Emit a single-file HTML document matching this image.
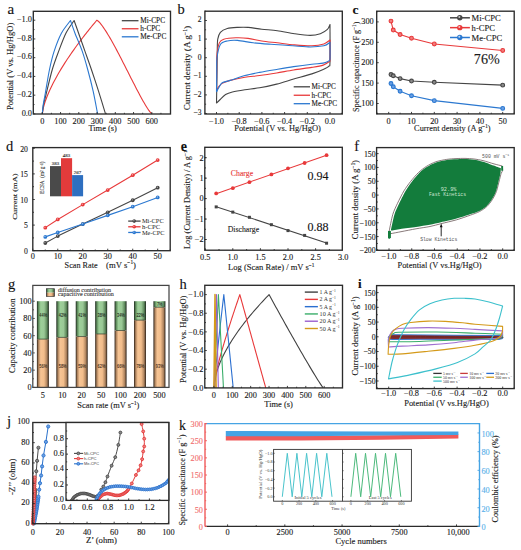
<!DOCTYPE html>
<html><head><meta charset="utf-8"><style>
html,body{margin:0;padding:0;background:#fff;width:521px;height:550px;overflow:hidden}
svg{display:block}
</style></head><body>
<svg width="521" height="550" viewBox="0 0 521 550">
<rect width="521" height="550" fill="#fff"/>
<polyline points="42.3,113.9 43.39,107.6 44.48,103.73 45.57,100.45 46.67,97.5 47.76,94.77 48.85,92.2 49.94,89.77 51.03,87.44 52.12,85.2 53.21,83.04 54.3,80.94 55.4,78.9 56.49,76.91 57.58,74.97 58.67,73.07 59.76,71.21 60.85,69.39 61.94,67.6 63.04,65.84 64.13,64.11 65.22,62.4 66.31,60.72 67.4,59.07 68.49,57.43 69.58,55.82 70.68,54.23 71.77,52.65 72.86,51.1 73.95,49.56 75.04,48.03 76.13,46.53 77.22,45.03 78.31,43.56 79.41,42.09 80.5,40.64 81.59,39.2 82.68,37.78 83.77,36.36 84.86,34.96 85.95,33.57 87.05,32.19 88.14,30.82 89.23,29.46 90.32,28.11 91.41,26.77 92.5,25.44 93.59,24.12 94.68,22.8 95.78,21.5 96.87,20.2 97.97,20.92 99.07,21.98 100.17,23.21 101.28,24.57 102.38,26.03 103.48,27.58 104.58,29.2 105.69,30.89 106.79,32.63 107.89,34.42 108.99,36.26 110.1,38.15 111.2,40.07 112.3,42.02 113.4,44.01 114.5,46.02 115.61,48.06 116.71,50.13 117.81,52.21 118.91,54.32 120.02,56.44 121.12,58.58 122.22,60.72 123.32,62.88 124.42,65.05 125.53,67.23 126.63,69.4 127.73,71.59 128.83,73.77 129.94,75.95 131.04,78.13 132.14,80.3 133.24,82.47 134.35,84.62 135.45,86.77 136.55,88.89 137.65,91 138.75,93.09 139.86,95.15 140.96,97.19 142.06,99.19 143.16,101.15 144.27,103.06 145.37,104.93 146.47,106.73 147.57,108.45 148.68,110.08 149.78,111.59 150.88,112.93 151.98,113.9" fill="none" stroke="#e8393a" stroke-width="1.1" stroke-linejoin="round" />
<path d="M42.3,113.9 C42.46,112.56 42.86,107.84 43.4,105 C43.94,102.16 44.56,100.33 45.9,95 C47.23,89.67 50.39,76.04 52.3,69.5 C54.2,62.96 56.56,56.84 58.6,51.4 C60.64,45.95 63.58,37.84 65.9,33.2 C68.23,28.57 72.87,22.41 74.1,20.5 L74.1,20.5 C74.77,22.41 76.96,28.57 78.6,33.2 C80.23,37.84 83.08,45.95 85,51.4 C86.92,56.84 89.36,63.5 91.4,69.5 C93.44,75.5 96.48,84.74 98.6,91.4 C100.71,98.06 104.47,110.53 105.5,113.9" fill="none" stroke="#454545" stroke-width="1.1" stroke-linejoin="round" />
<path d="M42.3,113.9 C42.43,112.56 42.8,107.84 43.2,105 C43.61,102.16 44.05,100.33 45,95 C45.95,89.67 48.13,76.04 49.5,69.5 C50.87,62.96 52.32,56.84 54.1,51.4 C55.88,45.95 58.94,37.84 61.4,33.2 C63.86,28.57 69.14,22.41 70.5,20.5 L70.5,20.5 C71.17,22.41 73.23,28.57 75,33.2 C76.77,37.84 80.39,45.95 82.3,51.4 C84.2,56.84 86.06,63.5 87.7,69.5 C89.34,75.5 91.72,84.74 93.2,91.4 C94.69,98.06 96.94,110.53 97.6,113.9" fill="none" stroke="#2b78d0" stroke-width="1.1" stroke-linejoin="round" />
<rect x="33.3" y="11.3" width="137.2" height="102.7" fill="none" stroke="#2b2b2b" stroke-width="1.35" />
<line x1="42.3" y1="114" x2="42.3" y2="112" stroke="#2b2b2b" stroke-width="0.9" />
<line x1="60.55" y1="114" x2="60.55" y2="112" stroke="#2b2b2b" stroke-width="0.9" />
<line x1="78.8" y1="114" x2="78.8" y2="112" stroke="#2b2b2b" stroke-width="0.9" />
<line x1="97.05" y1="114" x2="97.05" y2="112" stroke="#2b2b2b" stroke-width="0.9" />
<line x1="115.3" y1="114" x2="115.3" y2="112" stroke="#2b2b2b" stroke-width="0.9" />
<line x1="133.55" y1="114" x2="133.55" y2="112" stroke="#2b2b2b" stroke-width="0.9" />
<line x1="151.8" y1="114" x2="151.8" y2="112" stroke="#2b2b2b" stroke-width="0.9" />
<line x1="51.42" y1="114" x2="51.42" y2="112.8" stroke="#2b2b2b" stroke-width="0.9" />
<line x1="69.67" y1="114" x2="69.67" y2="112.8" stroke="#2b2b2b" stroke-width="0.9" />
<line x1="87.92" y1="114" x2="87.92" y2="112.8" stroke="#2b2b2b" stroke-width="0.9" />
<line x1="106.17" y1="114" x2="106.17" y2="112.8" stroke="#2b2b2b" stroke-width="0.9" />
<line x1="124.42" y1="114" x2="124.42" y2="112.8" stroke="#2b2b2b" stroke-width="0.9" />
<line x1="142.68" y1="114" x2="142.68" y2="112.8" stroke="#2b2b2b" stroke-width="0.9" />
<line x1="160.93" y1="114" x2="160.93" y2="112.8" stroke="#2b2b2b" stroke-width="0.9" />
<line x1="33.3" y1="113.9" x2="35.3" y2="113.9" stroke="#2b2b2b" stroke-width="0.9" />
<line x1="33.3" y1="95.16" x2="35.3" y2="95.16" stroke="#2b2b2b" stroke-width="0.9" />
<line x1="33.3" y1="76.42" x2="35.3" y2="76.42" stroke="#2b2b2b" stroke-width="0.9" />
<line x1="33.3" y1="57.68" x2="35.3" y2="57.68" stroke="#2b2b2b" stroke-width="0.9" />
<line x1="33.3" y1="38.94" x2="35.3" y2="38.94" stroke="#2b2b2b" stroke-width="0.9" />
<line x1="33.3" y1="20.2" x2="35.3" y2="20.2" stroke="#2b2b2b" stroke-width="0.9" />
<line x1="33.3" y1="104.53" x2="34.5" y2="104.53" stroke="#2b2b2b" stroke-width="0.9" />
<line x1="33.3" y1="85.79" x2="34.5" y2="85.79" stroke="#2b2b2b" stroke-width="0.9" />
<line x1="33.3" y1="67.05" x2="34.5" y2="67.05" stroke="#2b2b2b" stroke-width="0.9" />
<line x1="33.3" y1="48.31" x2="34.5" y2="48.31" stroke="#2b2b2b" stroke-width="0.9" />
<line x1="33.3" y1="29.57" x2="34.5" y2="29.57" stroke="#2b2b2b" stroke-width="0.9" />
<text x="32" y="115.7" font-size="8.3" text-anchor="end" font-family='"Liberation Serif", serif' fill="#1a1a1a"  stroke="#1a1a1a" stroke-width="0.12">0.0</text>
<text x="32" y="96.96" font-size="8.3" text-anchor="end" font-family='"Liberation Serif", serif' fill="#1a1a1a"  stroke="#1a1a1a" stroke-width="0.12">−0.2</text>
<text x="32" y="78.22" font-size="8.3" text-anchor="end" font-family='"Liberation Serif", serif' fill="#1a1a1a"  stroke="#1a1a1a" stroke-width="0.12">−0.4</text>
<text x="32" y="59.48" font-size="8.3" text-anchor="end" font-family='"Liberation Serif", serif' fill="#1a1a1a"  stroke="#1a1a1a" stroke-width="0.12">−0.6</text>
<text x="32" y="40.74" font-size="8.3" text-anchor="end" font-family='"Liberation Serif", serif' fill="#1a1a1a"  stroke="#1a1a1a" stroke-width="0.12">−0.8</text>
<text x="32" y="22" font-size="8.3" text-anchor="end" font-family='"Liberation Serif", serif' fill="#1a1a1a"  stroke="#1a1a1a" stroke-width="0.12">−1.0</text>
<text x="42.3" y="124" font-size="8.3" text-anchor="middle" font-family='"Liberation Serif", serif' fill="#1a1a1a"  stroke="#1a1a1a" stroke-width="0.12">0</text>
<text x="60.55" y="124" font-size="8.3" text-anchor="middle" font-family='"Liberation Serif", serif' fill="#1a1a1a"  stroke="#1a1a1a" stroke-width="0.12">100</text>
<text x="78.8" y="124" font-size="8.3" text-anchor="middle" font-family='"Liberation Serif", serif' fill="#1a1a1a"  stroke="#1a1a1a" stroke-width="0.12">200</text>
<text x="97.05" y="124" font-size="8.3" text-anchor="middle" font-family='"Liberation Serif", serif' fill="#1a1a1a"  stroke="#1a1a1a" stroke-width="0.12">300</text>
<text x="115.3" y="124" font-size="8.3" text-anchor="middle" font-family='"Liberation Serif", serif' fill="#1a1a1a"  stroke="#1a1a1a" stroke-width="0.12">400</text>
<text x="133.55" y="124" font-size="8.3" text-anchor="middle" font-family='"Liberation Serif", serif' fill="#1a1a1a"  stroke="#1a1a1a" stroke-width="0.12">500</text>
<text x="151.8" y="124" font-size="8.3" text-anchor="middle" font-family='"Liberation Serif", serif' fill="#1a1a1a"  stroke="#1a1a1a" stroke-width="0.12">600</text>
<text x="102.65" y="130.9" font-size="8.4" text-anchor="middle" font-family='"Liberation Serif", serif' fill="#1a1a1a"  textLength="28.5" lengthAdjust="spacingAndGlyphs" stroke="#1a1a1a" stroke-width="0.12">Time (s)</text>
<text x="13.1" y="66.4" font-size="8.4" text-anchor="middle" font-family='"Liberation Serif", serif' fill="#1a1a1a" transform="rotate(-90 13.1 66.4)"  textLength="87.2" lengthAdjust="spacingAndGlyphs" stroke="#1a1a1a" stroke-width="0.12">Potential (V vs. Hg/HgO)</text>
<text x="7.5" y="13.8" font-size="15" text-anchor="start" font-family='"Liberation Serif", serif' fill="#111"  stroke="#111" stroke-width="0.12">a</text>
<line x1="121.8" y1="20.7" x2="138.5" y2="20.7" stroke="#454545" stroke-width="1.3" />
<text x="140.3" y="23.2" font-size="7.3" text-anchor="start" font-family='"Liberation Serif", serif' fill="#1a1a1a"  stroke="#1a1a1a" stroke-width="0.12">Mi-CPC</text>
<line x1="121.8" y1="28.75" x2="138.5" y2="28.75" stroke="#e8393a" stroke-width="1.3" />
<text x="140.3" y="31.25" font-size="7.3" text-anchor="start" font-family='"Liberation Serif", serif' fill="#1a1a1a"  stroke="#1a1a1a" stroke-width="0.12">h-CPC</text>
<line x1="121.8" y1="36.8" x2="138.5" y2="36.8" stroke="#2b78d0" stroke-width="1.3" />
<text x="140.3" y="39.3" font-size="7.3" text-anchor="start" font-family='"Liberation Serif", serif' fill="#1a1a1a"  stroke="#1a1a1a" stroke-width="0.12">Me-CPC</text>
<path d="M216.5,103.27 C216.57,99.22 216.83,84.53 216.95,76.3 C217.07,68.07 217.18,53.97 217.29,48.4 C217.41,42.83 217.29,41.61 217.75,39.19 C218.21,36.78 218.93,33.9 220.36,32.29 C221.79,30.69 224.69,29.23 227.28,28.5 C229.87,27.76 234.5,27.55 237.61,27.38 C240.73,27.21 244.43,27.1 248.05,27.38 C251.68,27.66 257.39,28.74 261.79,29.24 C266.18,29.74 272.43,30.06 277.34,30.73 C282.24,31.4 289.55,33.01 294.47,33.71 C299.39,34.4 306.26,35.38 310.14,35.38 C314.02,35.38 317.76,34.6 320.35,33.71 C322.94,32.81 325.94,30.8 327.39,29.43 C328.84,28.06 329.61,25.32 330,24.59 L330,24.59 C330,30.17 330.17,55.57 330,61.79 C329.83,68.01 329.89,64.93 328.87,66.07 C327.84,67.21 325.74,68.25 323.19,69.42 C320.64,70.59 316.27,72.43 311.84,73.88 C307.41,75.33 298.96,77.56 293.68,79.09 C288.4,80.62 281.76,82.8 276.65,84.11 C271.55,85.42 264.4,87 259.63,87.83 C254.86,88.67 248.96,89.08 244.88,89.69 C240.79,90.31 235.28,91.2 232.39,91.92 C229.5,92.65 227.45,93.36 225.58,94.53 C223.71,95.7 221.27,98.42 219.91,99.74 C218.54,101.05 217.01,102.74 216.5,103.27" fill="none" stroke="#454545" stroke-width="1.1" stroke-linejoin="round" />
<path d="M216.5,90.25 C216.53,87.04 216.66,74.19 216.73,68.86 C216.8,63.53 216.55,58.66 216.95,54.72 C217.36,50.79 218.43,44.96 219.45,42.63 C220.47,40.3 221.3,39.92 223.76,39.19 C226.23,38.47 232.27,37.92 235.91,37.8 C239.55,37.67 244.17,37.88 248.05,38.36 C251.93,38.83 257.39,40.29 261.79,40.96 C266.18,41.63 272.43,42.23 277.34,42.82 C282.24,43.41 289.3,44.42 294.47,44.87 C299.65,45.31 307.43,45.94 311.84,45.8 C316.25,45.66 321.15,44.8 323.87,43.94 C326.59,43.07 329.08,40.62 330,40.03 L330,40.03 C330,42.96 330.17,56.3 330,59.56 C329.83,62.82 329.89,60.95 328.87,61.79 C327.84,62.63 325.74,64.3 323.19,65.14 C320.64,65.98 316.27,66.65 311.84,67.37 C307.41,68.1 298.96,69.14 293.68,69.98 C288.4,70.81 281.76,72.11 276.65,72.95 C271.55,73.79 264.4,74.91 259.63,75.56 C254.86,76.2 249.3,76.5 244.88,77.23 C240.45,77.96 233.53,79.47 230.12,80.39 C226.72,81.31 223.88,82.42 222.18,83.37 C220.47,84.32 219.62,85.68 218.77,86.72 C217.92,87.75 216.84,89.72 216.5,90.25" fill="none" stroke="#e8393a" stroke-width="1.1" stroke-linejoin="round" />
<path d="M216.5,91.92 C216.53,89.02 216.66,77.63 216.73,72.58 C216.8,67.53 216.41,62.47 216.95,58.26 C217.5,54.05 218.81,47.09 220.36,44.49 C221.91,41.9 224.69,41.57 227.28,40.96 C229.87,40.35 233.73,40.12 237.61,40.4 C241.49,40.68 248.16,42.23 253.16,42.82 C258.17,43.41 266.08,43.95 270.98,44.31 C275.88,44.67 280.23,44.85 285.85,45.24 C291.47,45.63 302.73,46.83 308.44,46.91 C314.14,47 320.64,46.49 323.87,45.8 C327.11,45.1 329.08,42.79 330,42.26 L330,42.26 C330,44.72 330.17,55.84 330,58.63 C329.83,61.42 329.89,60.19 328.87,60.86 C327.84,61.53 325.74,62.59 323.19,63.09 C320.64,63.6 316.27,63.68 311.84,64.21 C307.41,64.74 298.96,65.85 293.68,66.63 C288.4,67.41 281.76,68.55 276.65,69.42 C271.55,70.28 264.4,71.47 259.63,72.39 C254.86,73.31 249.3,74.36 244.88,75.56 C240.45,76.76 233.53,79.3 230.12,80.39 C226.72,81.48 223.88,81.72 222.18,82.81 C220.47,83.9 219.62,86.28 218.77,87.65 C217.92,89.01 216.84,91.28 216.5,91.92" fill="none" stroke="#2b78d0" stroke-width="1.1" stroke-linejoin="round" />
<rect x="204.9" y="11.2" width="137.4" height="102.8" fill="none" stroke="#2b2b2b" stroke-width="1.35" />
<line x1="216.5" y1="114" x2="216.5" y2="112" stroke="#2b2b2b" stroke-width="0.9" />
<line x1="239.2" y1="114" x2="239.2" y2="112" stroke="#2b2b2b" stroke-width="0.9" />
<line x1="261.9" y1="114" x2="261.9" y2="112" stroke="#2b2b2b" stroke-width="0.9" />
<line x1="284.6" y1="114" x2="284.6" y2="112" stroke="#2b2b2b" stroke-width="0.9" />
<line x1="307.3" y1="114" x2="307.3" y2="112" stroke="#2b2b2b" stroke-width="0.9" />
<line x1="330" y1="114" x2="330" y2="112" stroke="#2b2b2b" stroke-width="0.9" />
<line x1="205.15" y1="114" x2="205.15" y2="112.8" stroke="#2b2b2b" stroke-width="0.9" />
<line x1="227.85" y1="114" x2="227.85" y2="112.8" stroke="#2b2b2b" stroke-width="0.9" />
<line x1="250.55" y1="114" x2="250.55" y2="112.8" stroke="#2b2b2b" stroke-width="0.9" />
<line x1="273.25" y1="114" x2="273.25" y2="112.8" stroke="#2b2b2b" stroke-width="0.9" />
<line x1="295.95" y1="114" x2="295.95" y2="112.8" stroke="#2b2b2b" stroke-width="0.9" />
<line x1="318.65" y1="114" x2="318.65" y2="112.8" stroke="#2b2b2b" stroke-width="0.9" />
<line x1="341.35" y1="114" x2="341.35" y2="112.8" stroke="#2b2b2b" stroke-width="0.9" />
<line x1="204.9" y1="113.5" x2="206.9" y2="113.5" stroke="#2b2b2b" stroke-width="0.9" />
<line x1="204.9" y1="94.9" x2="206.9" y2="94.9" stroke="#2b2b2b" stroke-width="0.9" />
<line x1="204.9" y1="76.3" x2="206.9" y2="76.3" stroke="#2b2b2b" stroke-width="0.9" />
<line x1="204.9" y1="57.7" x2="206.9" y2="57.7" stroke="#2b2b2b" stroke-width="0.9" />
<line x1="204.9" y1="39.1" x2="206.9" y2="39.1" stroke="#2b2b2b" stroke-width="0.9" />
<line x1="204.9" y1="20.5" x2="206.9" y2="20.5" stroke="#2b2b2b" stroke-width="0.9" />
<line x1="204.9" y1="104.2" x2="206.1" y2="104.2" stroke="#2b2b2b" stroke-width="0.9" />
<line x1="204.9" y1="85.6" x2="206.1" y2="85.6" stroke="#2b2b2b" stroke-width="0.9" />
<line x1="204.9" y1="67" x2="206.1" y2="67" stroke="#2b2b2b" stroke-width="0.9" />
<line x1="204.9" y1="48.4" x2="206.1" y2="48.4" stroke="#2b2b2b" stroke-width="0.9" />
<line x1="204.9" y1="29.8" x2="206.1" y2="29.8" stroke="#2b2b2b" stroke-width="0.9" />
<line x1="204.9" y1="11.2" x2="206.1" y2="11.2" stroke="#2b2b2b" stroke-width="0.9" />
<text x="201.6" y="115.36" font-size="7.6" text-anchor="end" font-family='"Liberation Serif", serif' fill="#1a1a1a"  stroke="#1a1a1a" stroke-width="0.12">−3</text>
<text x="201.6" y="96.77" font-size="7.6" text-anchor="end" font-family='"Liberation Serif", serif' fill="#1a1a1a"  stroke="#1a1a1a" stroke-width="0.12">−2</text>
<text x="201.6" y="78.17" font-size="7.6" text-anchor="end" font-family='"Liberation Serif", serif' fill="#1a1a1a"  stroke="#1a1a1a" stroke-width="0.12">−1</text>
<text x="201.6" y="59.57" font-size="7.6" text-anchor="end" font-family='"Liberation Serif", serif' fill="#1a1a1a"  stroke="#1a1a1a" stroke-width="0.12">0</text>
<text x="201.6" y="40.97" font-size="7.6" text-anchor="end" font-family='"Liberation Serif", serif' fill="#1a1a1a"  stroke="#1a1a1a" stroke-width="0.12">1</text>
<text x="201.6" y="22.36" font-size="7.6" text-anchor="end" font-family='"Liberation Serif", serif' fill="#1a1a1a"  stroke="#1a1a1a" stroke-width="0.12">2</text>
<text x="216.5" y="123.6" font-size="8.3" text-anchor="middle" font-family='"Liberation Serif", serif' fill="#1a1a1a"  stroke="#1a1a1a" stroke-width="0.12">−1.0</text>
<text x="239.2" y="123.6" font-size="8.3" text-anchor="middle" font-family='"Liberation Serif", serif' fill="#1a1a1a"  stroke="#1a1a1a" stroke-width="0.12">−0.8</text>
<text x="261.9" y="123.6" font-size="8.3" text-anchor="middle" font-family='"Liberation Serif", serif' fill="#1a1a1a"  stroke="#1a1a1a" stroke-width="0.12">−0.6</text>
<text x="284.6" y="123.6" font-size="8.3" text-anchor="middle" font-family='"Liberation Serif", serif' fill="#1a1a1a"  stroke="#1a1a1a" stroke-width="0.12">−0.4</text>
<text x="307.3" y="123.6" font-size="8.3" text-anchor="middle" font-family='"Liberation Serif", serif' fill="#1a1a1a"  stroke="#1a1a1a" stroke-width="0.12">−0.2</text>
<text x="330" y="123.6" font-size="8.3" text-anchor="middle" font-family='"Liberation Serif", serif' fill="#1a1a1a"  stroke="#1a1a1a" stroke-width="0.12">0.0</text>
<text x="277.55" y="131.1" font-size="8.4" text-anchor="middle" font-family='"Liberation Serif", serif' fill="#1a1a1a"  textLength="86.7" lengthAdjust="spacingAndGlyphs" stroke="#1a1a1a" stroke-width="0.12">Potential (V vs. Hg/HgO)</text>
<text x="190.1" y="68.1" font-size="8.4" text-anchor="middle" font-family='"Liberation Serif", serif' fill="#1a1a1a" transform="rotate(-90 190.1 68.1)"  textLength="84.4" lengthAdjust="spacingAndGlyphs" stroke="#1a1a1a" stroke-width="0.12">Current density (A g<tspan font-size="5.2" dy="-3.3">−1</tspan><tspan dy="3.3">)</tspan></text>
<text x="177.6" y="13.8" font-size="14.5" text-anchor="start" font-family='"Liberation Serif", serif' fill="#111"  stroke="#111" stroke-width="0.12">b</text>
<line x1="293.7" y1="86.8" x2="310" y2="86.8" stroke="#454545" stroke-width="1.3" />
<text x="311.5" y="89.3" font-size="7.2" text-anchor="start" font-family='"Liberation Serif", serif' fill="#1a1a1a"  stroke="#1a1a1a" stroke-width="0.12">Mi-CPC</text>
<line x1="293.7" y1="95.25" x2="310" y2="95.25" stroke="#e8393a" stroke-width="1.3" />
<text x="311.5" y="97.75" font-size="7.2" text-anchor="start" font-family='"Liberation Serif", serif' fill="#1a1a1a"  stroke="#1a1a1a" stroke-width="0.12">h-CPC</text>
<line x1="293.7" y1="103.7" x2="310" y2="103.7" stroke="#2b78d0" stroke-width="1.3" />
<text x="311.5" y="106.2" font-size="7.2" text-anchor="start" font-family='"Liberation Serif", serif' fill="#1a1a1a"  stroke="#1a1a1a" stroke-width="0.12">Me-CPC</text>
<polyline points="390.98,74.53 393.26,75.76 400.1,78.61 411.5,81.06 434.3,82.28 502.7,85.14" fill="none" stroke="#454545" stroke-width="1.1" stroke-linejoin="round" />
<circle cx="390.98" cy="74.53" r="1.9" fill="#8a8a8a" stroke="#454545" stroke-width="1.1" />
<circle cx="393.26" cy="75.76" r="1.9" fill="#8a8a8a" stroke="#454545" stroke-width="1.1" />
<circle cx="400.1" cy="78.61" r="1.9" fill="#8a8a8a" stroke="#454545" stroke-width="1.1" />
<circle cx="411.5" cy="81.06" r="1.9" fill="#8a8a8a" stroke="#454545" stroke-width="1.1" />
<circle cx="434.3" cy="82.28" r="1.9" fill="#8a8a8a" stroke="#454545" stroke-width="1.1" />
<circle cx="502.7" cy="85.14" r="1.9" fill="#8a8a8a" stroke="#454545" stroke-width="1.1" />
<polyline points="390.98,21.08 393.26,30.06 400.1,34.55 411.5,38.22 434.3,43.93 502.7,50.46" fill="none" stroke="#e8393a" stroke-width="1.1" stroke-linejoin="round" />
<circle cx="390.98" cy="21.08" r="1.9" fill="#f27c7c" stroke="#e8393a" stroke-width="1.1" />
<circle cx="393.26" cy="30.06" r="1.9" fill="#f27c7c" stroke="#e8393a" stroke-width="1.1" />
<circle cx="400.1" cy="34.55" r="1.9" fill="#f27c7c" stroke="#e8393a" stroke-width="1.1" />
<circle cx="411.5" cy="38.22" r="1.9" fill="#f27c7c" stroke="#e8393a" stroke-width="1.1" />
<circle cx="434.3" cy="43.93" r="1.9" fill="#f27c7c" stroke="#e8393a" stroke-width="1.1" />
<circle cx="502.7" cy="50.46" r="1.9" fill="#f27c7c" stroke="#e8393a" stroke-width="1.1" />
<polyline points="390.98,83.51 393.26,86.77 400.1,91.26 411.5,95.75 434.3,100.64 502.7,108.4" fill="none" stroke="#2b78d0" stroke-width="1.1" stroke-linejoin="round" />
<circle cx="390.98" cy="83.51" r="1.9" fill="#6a9fe4" stroke="#2b78d0" stroke-width="1.1" />
<circle cx="393.26" cy="86.77" r="1.9" fill="#6a9fe4" stroke="#2b78d0" stroke-width="1.1" />
<circle cx="400.1" cy="91.26" r="1.9" fill="#6a9fe4" stroke="#2b78d0" stroke-width="1.1" />
<circle cx="411.5" cy="95.75" r="1.9" fill="#6a9fe4" stroke="#2b78d0" stroke-width="1.1" />
<circle cx="434.3" cy="100.64" r="1.9" fill="#6a9fe4" stroke="#2b78d0" stroke-width="1.1" />
<circle cx="502.7" cy="108.4" r="1.9" fill="#6a9fe4" stroke="#2b78d0" stroke-width="1.1" />
<rect x="376.7" y="11.2" width="137.5" height="102.7" fill="none" stroke="#2b2b2b" stroke-width="1.35" />
<line x1="388.7" y1="113.9" x2="388.7" y2="111.9" stroke="#2b2b2b" stroke-width="0.9" />
<line x1="411.5" y1="113.9" x2="411.5" y2="111.9" stroke="#2b2b2b" stroke-width="0.9" />
<line x1="434.3" y1="113.9" x2="434.3" y2="111.9" stroke="#2b2b2b" stroke-width="0.9" />
<line x1="457.1" y1="113.9" x2="457.1" y2="111.9" stroke="#2b2b2b" stroke-width="0.9" />
<line x1="479.9" y1="113.9" x2="479.9" y2="111.9" stroke="#2b2b2b" stroke-width="0.9" />
<line x1="502.7" y1="113.9" x2="502.7" y2="111.9" stroke="#2b2b2b" stroke-width="0.9" />
<line x1="377.3" y1="113.9" x2="377.3" y2="112.7" stroke="#2b2b2b" stroke-width="0.9" />
<line x1="400.1" y1="113.9" x2="400.1" y2="112.7" stroke="#2b2b2b" stroke-width="0.9" />
<line x1="422.9" y1="113.9" x2="422.9" y2="112.7" stroke="#2b2b2b" stroke-width="0.9" />
<line x1="445.7" y1="113.9" x2="445.7" y2="112.7" stroke="#2b2b2b" stroke-width="0.9" />
<line x1="468.5" y1="113.9" x2="468.5" y2="112.7" stroke="#2b2b2b" stroke-width="0.9" />
<line x1="491.3" y1="113.9" x2="491.3" y2="112.7" stroke="#2b2b2b" stroke-width="0.9" />
<line x1="514.1" y1="113.9" x2="514.1" y2="112.7" stroke="#2b2b2b" stroke-width="0.9" />
<line x1="376.7" y1="103.5" x2="378.7" y2="103.5" stroke="#2b2b2b" stroke-width="0.9" />
<line x1="376.7" y1="83.1" x2="378.7" y2="83.1" stroke="#2b2b2b" stroke-width="0.9" />
<line x1="376.7" y1="62.7" x2="378.7" y2="62.7" stroke="#2b2b2b" stroke-width="0.9" />
<line x1="376.7" y1="42.3" x2="378.7" y2="42.3" stroke="#2b2b2b" stroke-width="0.9" />
<line x1="376.7" y1="21.9" x2="378.7" y2="21.9" stroke="#2b2b2b" stroke-width="0.9" />
<line x1="376.7" y1="113.7" x2="377.9" y2="113.7" stroke="#2b2b2b" stroke-width="0.9" />
<line x1="376.7" y1="93.3" x2="377.9" y2="93.3" stroke="#2b2b2b" stroke-width="0.9" />
<line x1="376.7" y1="72.9" x2="377.9" y2="72.9" stroke="#2b2b2b" stroke-width="0.9" />
<line x1="376.7" y1="52.5" x2="377.9" y2="52.5" stroke="#2b2b2b" stroke-width="0.9" />
<line x1="376.7" y1="32.1" x2="377.9" y2="32.1" stroke="#2b2b2b" stroke-width="0.9" />
<line x1="376.7" y1="11.7" x2="377.9" y2="11.7" stroke="#2b2b2b" stroke-width="0.9" />
<text x="373.7" y="106" font-size="8.3" text-anchor="end" font-family='"Liberation Serif", serif' fill="#1a1a1a"  stroke="#1a1a1a" stroke-width="0.12">100</text>
<text x="373.7" y="85.6" font-size="8.3" text-anchor="end" font-family='"Liberation Serif", serif' fill="#1a1a1a"  stroke="#1a1a1a" stroke-width="0.12">150</text>
<text x="373.7" y="65.2" font-size="8.3" text-anchor="end" font-family='"Liberation Serif", serif' fill="#1a1a1a"  stroke="#1a1a1a" stroke-width="0.12">200</text>
<text x="373.7" y="44.8" font-size="8.3" text-anchor="end" font-family='"Liberation Serif", serif' fill="#1a1a1a"  stroke="#1a1a1a" stroke-width="0.12">250</text>
<text x="373.7" y="24.4" font-size="8.3" text-anchor="end" font-family='"Liberation Serif", serif' fill="#1a1a1a"  stroke="#1a1a1a" stroke-width="0.12">300</text>
<text x="388.7" y="123.8" font-size="8.3" text-anchor="middle" font-family='"Liberation Serif", serif' fill="#1a1a1a"  stroke="#1a1a1a" stroke-width="0.12">0</text>
<text x="411.5" y="123.8" font-size="8.3" text-anchor="middle" font-family='"Liberation Serif", serif' fill="#1a1a1a"  stroke="#1a1a1a" stroke-width="0.12">10</text>
<text x="434.3" y="123.8" font-size="8.3" text-anchor="middle" font-family='"Liberation Serif", serif' fill="#1a1a1a"  stroke="#1a1a1a" stroke-width="0.12">20</text>
<text x="457.1" y="123.8" font-size="8.3" text-anchor="middle" font-family='"Liberation Serif", serif' fill="#1a1a1a"  stroke="#1a1a1a" stroke-width="0.12">30</text>
<text x="479.9" y="123.8" font-size="8.3" text-anchor="middle" font-family='"Liberation Serif", serif' fill="#1a1a1a"  stroke="#1a1a1a" stroke-width="0.12">40</text>
<text x="502.7" y="123.8" font-size="8.3" text-anchor="middle" font-family='"Liberation Serif", serif' fill="#1a1a1a"  stroke="#1a1a1a" stroke-width="0.12">50</text>
<text x="452.35" y="131" font-size="8.4" text-anchor="middle" font-family='"Liberation Serif", serif' fill="#1a1a1a"  textLength="76.5" lengthAdjust="spacingAndGlyphs" stroke="#1a1a1a" stroke-width="0.12">Current density (A g<tspan font-size="5.2" dy="-3.3">−1</tspan><tspan dy="3.3">)</tspan></text>
<text x="359.3" y="66.9" font-size="8.4" text-anchor="middle" font-family='"Liberation Serif", serif' fill="#1a1a1a" transform="rotate(-90 359.3 66.9)"  textLength="90.4" lengthAdjust="spacingAndGlyphs" stroke="#1a1a1a" stroke-width="0.12">Specific capacitance (F g<tspan font-size="5.2" dy="-3.3">−1</tspan><tspan dy="3.3">)</tspan></text>
<text x="352.4" y="13.8" font-size="13.5" text-anchor="start" font-family='"Liberation Serif", serif' fill="#111" font-weight="bold"  stroke="#111" stroke-width="0.12">c</text>
<line x1="450" y1="17.8" x2="469.9" y2="17.8" stroke="#454545" stroke-width="1.5" />
<circle cx="459.8" cy="17.8" r="2.7" fill="#454545" stroke="none" stroke-width="1" />
<circle cx="459.3" cy="17.1" r="1" fill="#ffffff" stroke="none" stroke-width="1" opacity="0.7"/>
<text x="471.6" y="20.8" font-size="8.6" text-anchor="start" font-family='"Liberation Serif", serif' fill="#1a1a1a"  stroke="#1a1a1a" stroke-width="0.12">Mi-CPC</text>
<line x1="450" y1="27.65" x2="469.9" y2="27.65" stroke="#e8393a" stroke-width="1.5" />
<circle cx="459.8" cy="27.65" r="2.7" fill="#e8393a" stroke="none" stroke-width="1" />
<circle cx="459.3" cy="26.95" r="1" fill="#ffffff" stroke="none" stroke-width="1" opacity="0.7"/>
<text x="471.6" y="30.65" font-size="8.6" text-anchor="start" font-family='"Liberation Serif", serif' fill="#1a1a1a"  stroke="#1a1a1a" stroke-width="0.12">h-CPC</text>
<line x1="450" y1="37.5" x2="469.9" y2="37.5" stroke="#2b78d0" stroke-width="1.5" />
<circle cx="459.8" cy="37.5" r="2.7" fill="#2b78d0" stroke="none" stroke-width="1" />
<circle cx="459.3" cy="36.8" r="1" fill="#ffffff" stroke="none" stroke-width="1" opacity="0.7"/>
<text x="471.6" y="40.5" font-size="8.6" text-anchor="start" font-family='"Liberation Serif", serif' fill="#1a1a1a"  stroke="#1a1a1a" stroke-width="0.12">Me-CPC</text>
<text x="486.8" y="63.8" font-size="14.5" text-anchor="middle" font-family='"Liberation Serif", serif' fill="#1a1a1a"  textLength="25.9" lengthAdjust="spacingAndGlyphs" stroke="#1a1a1a" stroke-width="0.12">76%</text>
<polyline points="45.29,243.02 57.78,236.11 82.76,224.08 107.74,212.3 132.72,200.27 157.7,187.72" fill="none" stroke="#454545" stroke-width="1.1" stroke-linejoin="round" />
<circle cx="45.29" cy="243.02" r="1.9" fill="#454545" stroke="none" stroke-width="1" />
<circle cx="44.94" cy="242.57" r="0.68" fill="#ffffff" stroke="none" stroke-width="1" opacity="0.55"/>
<circle cx="57.78" cy="236.11" r="1.9" fill="#454545" stroke="none" stroke-width="1" />
<circle cx="57.43" cy="235.66" r="0.68" fill="#ffffff" stroke="none" stroke-width="1" opacity="0.55"/>
<circle cx="82.76" cy="224.08" r="1.9" fill="#454545" stroke="none" stroke-width="1" />
<circle cx="82.41" cy="223.63" r="0.68" fill="#ffffff" stroke="none" stroke-width="1" opacity="0.55"/>
<circle cx="107.74" cy="212.3" r="1.9" fill="#454545" stroke="none" stroke-width="1" />
<circle cx="107.39" cy="211.85" r="0.68" fill="#ffffff" stroke="none" stroke-width="1" opacity="0.55"/>
<circle cx="132.72" cy="200.27" r="1.9" fill="#454545" stroke="none" stroke-width="1" />
<circle cx="132.37" cy="199.82" r="0.68" fill="#ffffff" stroke="none" stroke-width="1" opacity="0.55"/>
<circle cx="157.7" cy="187.72" r="1.9" fill="#454545" stroke="none" stroke-width="1" />
<circle cx="157.35" cy="187.27" r="0.68" fill="#ffffff" stroke="none" stroke-width="1" opacity="0.55"/>
<polyline points="45.29,236.88 57.78,232.52 82.76,224.08 107.74,215.37 132.72,206.67 157.7,197.45" fill="none" stroke="#2b78d0" stroke-width="1.1" stroke-linejoin="round" />
<circle cx="45.29" cy="236.88" r="1.9" fill="#2b78d0" stroke="none" stroke-width="1" />
<circle cx="44.94" cy="236.43" r="0.68" fill="#ffffff" stroke="none" stroke-width="1" opacity="0.55"/>
<circle cx="57.78" cy="232.52" r="1.9" fill="#2b78d0" stroke="none" stroke-width="1" />
<circle cx="57.43" cy="232.07" r="0.68" fill="#ffffff" stroke="none" stroke-width="1" opacity="0.55"/>
<circle cx="82.76" cy="224.08" r="1.9" fill="#2b78d0" stroke="none" stroke-width="1" />
<circle cx="82.41" cy="223.63" r="0.68" fill="#ffffff" stroke="none" stroke-width="1" opacity="0.55"/>
<circle cx="107.74" cy="215.37" r="1.9" fill="#2b78d0" stroke="none" stroke-width="1" />
<circle cx="107.39" cy="214.92" r="0.68" fill="#ffffff" stroke="none" stroke-width="1" opacity="0.55"/>
<circle cx="132.72" cy="206.67" r="1.9" fill="#2b78d0" stroke="none" stroke-width="1" />
<circle cx="132.37" cy="206.22" r="0.68" fill="#ffffff" stroke="none" stroke-width="1" opacity="0.55"/>
<circle cx="157.7" cy="197.45" r="1.9" fill="#2b78d0" stroke="none" stroke-width="1" />
<circle cx="157.35" cy="197" r="0.68" fill="#ffffff" stroke="none" stroke-width="1" opacity="0.55"/>
<polyline points="45.29,227.66 57.78,219.47 82.76,204.62 107.74,190.03 132.72,175.18 157.7,160.08" fill="none" stroke="#e8393a" stroke-width="1.1" stroke-linejoin="round" />
<circle cx="45.29" cy="227.66" r="1.9" fill="#e8393a" stroke="none" stroke-width="1" />
<circle cx="44.94" cy="227.21" r="0.68" fill="#ffffff" stroke="none" stroke-width="1" opacity="0.55"/>
<circle cx="57.78" cy="219.47" r="1.9" fill="#e8393a" stroke="none" stroke-width="1" />
<circle cx="57.43" cy="219.02" r="0.68" fill="#ffffff" stroke="none" stroke-width="1" opacity="0.55"/>
<circle cx="82.76" cy="204.62" r="1.9" fill="#e8393a" stroke="none" stroke-width="1" />
<circle cx="82.41" cy="204.17" r="0.68" fill="#ffffff" stroke="none" stroke-width="1" opacity="0.55"/>
<circle cx="107.74" cy="190.03" r="1.9" fill="#e8393a" stroke="none" stroke-width="1" />
<circle cx="107.39" cy="189.58" r="0.68" fill="#ffffff" stroke="none" stroke-width="1" opacity="0.55"/>
<circle cx="132.72" cy="175.18" r="1.9" fill="#e8393a" stroke="none" stroke-width="1" />
<circle cx="132.37" cy="174.73" r="0.68" fill="#ffffff" stroke="none" stroke-width="1" opacity="0.55"/>
<circle cx="157.7" cy="160.08" r="1.9" fill="#e8393a" stroke="none" stroke-width="1" />
<circle cx="157.35" cy="159.63" r="0.68" fill="#ffffff" stroke="none" stroke-width="1" opacity="0.55"/>
<rect x="32.8" y="147.6" width="137.4" height="103.1" fill="none" stroke="#2b2b2b" stroke-width="1.35" />
<line x1="32.8" y1="250.7" x2="32.8" y2="248.7" stroke="#2b2b2b" stroke-width="0.9" />
<line x1="57.78" y1="250.7" x2="57.78" y2="248.7" stroke="#2b2b2b" stroke-width="0.9" />
<line x1="82.76" y1="250.7" x2="82.76" y2="248.7" stroke="#2b2b2b" stroke-width="0.9" />
<line x1="107.74" y1="250.7" x2="107.74" y2="248.7" stroke="#2b2b2b" stroke-width="0.9" />
<line x1="132.72" y1="250.7" x2="132.72" y2="248.7" stroke="#2b2b2b" stroke-width="0.9" />
<line x1="157.7" y1="250.7" x2="157.7" y2="248.7" stroke="#2b2b2b" stroke-width="0.9" />
<line x1="45.29" y1="250.7" x2="45.29" y2="249.5" stroke="#2b2b2b" stroke-width="0.9" />
<line x1="70.27" y1="250.7" x2="70.27" y2="249.5" stroke="#2b2b2b" stroke-width="0.9" />
<line x1="95.25" y1="250.7" x2="95.25" y2="249.5" stroke="#2b2b2b" stroke-width="0.9" />
<line x1="120.23" y1="250.7" x2="120.23" y2="249.5" stroke="#2b2b2b" stroke-width="0.9" />
<line x1="145.21" y1="250.7" x2="145.21" y2="249.5" stroke="#2b2b2b" stroke-width="0.9" />
<line x1="170.19" y1="250.7" x2="170.19" y2="249.5" stroke="#2b2b2b" stroke-width="0.9" />
<line x1="32.8" y1="250.7" x2="34.8" y2="250.7" stroke="#2b2b2b" stroke-width="0.9" />
<line x1="32.8" y1="225.1" x2="34.8" y2="225.1" stroke="#2b2b2b" stroke-width="0.9" />
<line x1="32.8" y1="199.5" x2="34.8" y2="199.5" stroke="#2b2b2b" stroke-width="0.9" />
<line x1="32.8" y1="173.9" x2="34.8" y2="173.9" stroke="#2b2b2b" stroke-width="0.9" />
<line x1="32.8" y1="148.3" x2="34.8" y2="148.3" stroke="#2b2b2b" stroke-width="0.9" />
<line x1="32.8" y1="237.9" x2="34" y2="237.9" stroke="#2b2b2b" stroke-width="0.9" />
<line x1="32.8" y1="212.3" x2="34" y2="212.3" stroke="#2b2b2b" stroke-width="0.9" />
<line x1="32.8" y1="186.7" x2="34" y2="186.7" stroke="#2b2b2b" stroke-width="0.9" />
<line x1="32.8" y1="161.1" x2="34" y2="161.1" stroke="#2b2b2b" stroke-width="0.9" />
<text x="27.9" y="253.9" font-size="7.7" text-anchor="end" font-family='"Liberation Serif", serif' fill="#1a1a1a"  stroke="#1a1a1a" stroke-width="0.12">0</text>
<text x="27.9" y="228.3" font-size="7.7" text-anchor="end" font-family='"Liberation Serif", serif' fill="#1a1a1a"  stroke="#1a1a1a" stroke-width="0.12">5</text>
<text x="27.9" y="202.7" font-size="7.7" text-anchor="end" font-family='"Liberation Serif", serif' fill="#1a1a1a"  stroke="#1a1a1a" stroke-width="0.12">10</text>
<text x="27.9" y="177.1" font-size="7.7" text-anchor="end" font-family='"Liberation Serif", serif' fill="#1a1a1a"  stroke="#1a1a1a" stroke-width="0.12">15</text>
<text x="27.9" y="151.5" font-size="7.7" text-anchor="end" font-family='"Liberation Serif", serif' fill="#1a1a1a"  stroke="#1a1a1a" stroke-width="0.12">20</text>
<text x="32.8" y="258.6" font-size="8.3" text-anchor="middle" font-family='"Liberation Serif", serif' fill="#1a1a1a"  stroke="#1a1a1a" stroke-width="0.12">0</text>
<text x="57.78" y="258.6" font-size="8.3" text-anchor="middle" font-family='"Liberation Serif", serif' fill="#1a1a1a"  stroke="#1a1a1a" stroke-width="0.12">10</text>
<text x="82.76" y="258.6" font-size="8.3" text-anchor="middle" font-family='"Liberation Serif", serif' fill="#1a1a1a"  stroke="#1a1a1a" stroke-width="0.12">20</text>
<text x="107.74" y="258.6" font-size="8.3" text-anchor="middle" font-family='"Liberation Serif", serif' fill="#1a1a1a"  stroke="#1a1a1a" stroke-width="0.12">30</text>
<text x="132.72" y="258.6" font-size="8.3" text-anchor="middle" font-family='"Liberation Serif", serif' fill="#1a1a1a"  stroke="#1a1a1a" stroke-width="0.12">40</text>
<text x="157.7" y="258.6" font-size="8.3" text-anchor="middle" font-family='"Liberation Serif", serif' fill="#1a1a1a"  stroke="#1a1a1a" stroke-width="0.12">50</text>
<text x="81.1" y="267.7" font-size="8.4" text-anchor="middle" font-family='"Liberation Serif", serif' fill="#1a1a1a"  textLength="33" lengthAdjust="spacingAndGlyphs" stroke="#1a1a1a" stroke-width="0.12">Scan Rate</text>
<text x="121.05" y="267.7" font-size="8.4" text-anchor="middle" font-family='"Liberation Serif", serif' fill="#1a1a1a"  textLength="29.9" lengthAdjust="spacingAndGlyphs" stroke="#1a1a1a" stroke-width="0.12">(mV s<tspan font-size="5.2" dy="-3.3">−1</tspan><tspan dy="3.3">)</tspan></text>
<text x="16.9" y="196.55" font-size="7.1" text-anchor="middle" font-family='"Liberation Serif", serif' fill="#1a1a1a" transform="rotate(-90 16.9 196.55)"  textLength="46.5" lengthAdjust="spacingAndGlyphs" stroke="#1a1a1a" stroke-width="0.12">Current (mA)</text>
<text x="5.9" y="150.8" font-size="14.5" text-anchor="start" font-family='"Liberation Serif", serif' fill="#111"  stroke="#111" stroke-width="0.12">d</text>
<rect x="50" y="166.1" width="11" height="30.2" fill="#4a4a4a" stroke="none" stroke-width="1" />
<rect x="61" y="158.2" width="11.1" height="38.1" fill="#e23b3b" stroke="none" stroke-width="1" />
<rect x="72.1" y="175.1" width="11" height="21.2" fill="#2e6fc0" stroke="none" stroke-width="1" />
<text x="55.5" y="165.4" font-size="5" text-anchor="middle" font-family='"Liberation Serif", serif' fill="#222"  stroke="#222" stroke-width="0.1">383</text>
<text x="66.6" y="157.4" font-size="5" text-anchor="middle" font-family='"Liberation Serif", serif' fill="#222"  stroke="#222" stroke-width="0.1">483</text>
<text x="77.6" y="174.4" font-size="5" text-anchor="middle" font-family='"Liberation Serif", serif' fill="#222"  stroke="#222" stroke-width="0.1">267</text>
<text x="43.9" y="177.6" font-size="5.4" text-anchor="middle" font-family='"Liberation Serif", serif' fill="#333" transform="rotate(-90 43.9 177.6)"  textLength="32.2" lengthAdjust="spacingAndGlyphs" stroke="#333" stroke-width="0.1">ECSA  (m² g<tspan font-size="3.2" dy="-1.3">−</tspan><tspan dy="1.3">¹)</tspan></text>
<line x1="128.2" y1="221.1" x2="140.6" y2="221.1" stroke="#454545" stroke-width="1.3" />
<circle cx="134.2" cy="221.1" r="1.8" fill="#454545" stroke="none" stroke-width="1" />
<circle cx="133.85" cy="220.65" r="0.65" fill="#ffffff" stroke="none" stroke-width="1" opacity="0.55"/>
<text x="141.9" y="223.3" font-size="6.4" text-anchor="start" font-family='"Liberation Serif", serif' fill="#222"  textLength="21.8" lengthAdjust="spacingAndGlyphs">Mi-CPC</text>
<line x1="128.2" y1="226.78" x2="140.6" y2="226.78" stroke="#e8393a" stroke-width="1.3" />
<circle cx="134.2" cy="226.78" r="1.8" fill="#e8393a" stroke="none" stroke-width="1" />
<circle cx="133.85" cy="226.33" r="0.65" fill="#ffffff" stroke="none" stroke-width="1" opacity="0.55"/>
<text x="141.9" y="228.98" font-size="6.4" text-anchor="start" font-family='"Liberation Serif", serif' fill="#222"  textLength="18.2" lengthAdjust="spacingAndGlyphs">h-CPC</text>
<line x1="128.2" y1="232.46" x2="140.6" y2="232.46" stroke="#2b78d0" stroke-width="1.3" />
<circle cx="134.2" cy="232.46" r="1.8" fill="#2b78d0" stroke="none" stroke-width="1" />
<circle cx="133.85" cy="232.01" r="0.65" fill="#ffffff" stroke="none" stroke-width="1" opacity="0.55"/>
<text x="141.9" y="234.66" font-size="6.4" text-anchor="start" font-family='"Liberation Serif", serif' fill="#222"  textLength="22.7" lengthAdjust="spacingAndGlyphs">Me-CPC</text>
<line x1="216.18" y1="193.66" x2="326.58" y2="155.18" stroke="#e8393a" stroke-width="1.1" />
<circle cx="216.18" cy="193.4" r="1.9" fill="#e8393a" stroke="none" stroke-width="1" />
<circle cx="232.8" cy="188.2" r="1.9" fill="#e8393a" stroke="none" stroke-width="1" />
<circle cx="249.42" cy="182.2" r="1.9" fill="#e8393a" stroke="none" stroke-width="1" />
<circle cx="271.38" cy="174.4" r="1.9" fill="#e8393a" stroke="none" stroke-width="1" />
<circle cx="288" cy="168.3" r="1.9" fill="#e8393a" stroke="none" stroke-width="1" />
<circle cx="304.62" cy="163" r="1.9" fill="#e8393a" stroke="none" stroke-width="1" />
<circle cx="326.58" cy="155.2" r="1.9" fill="#e8393a" stroke="none" stroke-width="1" />
<line x1="216.18" y1="206.66" x2="326.58" y2="242.98" stroke="#444" stroke-width="1.1" />
<rect x="214.68" y="205.4" width="3" height="3" fill="#444" stroke="none" stroke-width="1" />
<rect x="231.3" y="210.6" width="3" height="3" fill="#444" stroke="none" stroke-width="1" />
<rect x="247.92" y="215.8" width="3" height="3" fill="#444" stroke="none" stroke-width="1" />
<rect x="269.88" y="223.2" width="3" height="3" fill="#444" stroke="none" stroke-width="1" />
<rect x="286.5" y="229.1" width="3" height="3" fill="#444" stroke="none" stroke-width="1" />
<rect x="303.12" y="233.9" width="3" height="3" fill="#444" stroke="none" stroke-width="1" />
<rect x="325.08" y="241.7" width="3" height="3" fill="#444" stroke="none" stroke-width="1" />
<rect x="204.8" y="147.3" width="137.5" height="102.9" fill="none" stroke="#2b2b2b" stroke-width="1.35" />
<line x1="205.2" y1="250.2" x2="205.2" y2="248.2" stroke="#2b2b2b" stroke-width="0.9" />
<line x1="232.8" y1="250.2" x2="232.8" y2="248.2" stroke="#2b2b2b" stroke-width="0.9" />
<line x1="260.4" y1="250.2" x2="260.4" y2="248.2" stroke="#2b2b2b" stroke-width="0.9" />
<line x1="288" y1="250.2" x2="288" y2="248.2" stroke="#2b2b2b" stroke-width="0.9" />
<line x1="315.6" y1="250.2" x2="315.6" y2="248.2" stroke="#2b2b2b" stroke-width="0.9" />
<line x1="219" y1="250.2" x2="219" y2="249" stroke="#2b2b2b" stroke-width="0.9" />
<line x1="246.6" y1="250.2" x2="246.6" y2="249" stroke="#2b2b2b" stroke-width="0.9" />
<line x1="274.2" y1="250.2" x2="274.2" y2="249" stroke="#2b2b2b" stroke-width="0.9" />
<line x1="301.8" y1="250.2" x2="301.8" y2="249" stroke="#2b2b2b" stroke-width="0.9" />
<line x1="329.4" y1="250.2" x2="329.4" y2="249" stroke="#2b2b2b" stroke-width="0.9" />
<line x1="204.8" y1="239.5" x2="206.8" y2="239.5" stroke="#2b2b2b" stroke-width="0.9" />
<line x1="204.8" y1="219.05" x2="206.8" y2="219.05" stroke="#2b2b2b" stroke-width="0.9" />
<line x1="204.8" y1="198.6" x2="206.8" y2="198.6" stroke="#2b2b2b" stroke-width="0.9" />
<line x1="204.8" y1="178.15" x2="206.8" y2="178.15" stroke="#2b2b2b" stroke-width="0.9" />
<line x1="204.8" y1="157.7" x2="206.8" y2="157.7" stroke="#2b2b2b" stroke-width="0.9" />
<line x1="204.8" y1="249.72" x2="206" y2="249.72" stroke="#2b2b2b" stroke-width="0.9" />
<line x1="204.8" y1="239.5" x2="206" y2="239.5" stroke="#2b2b2b" stroke-width="0.9" />
<line x1="204.8" y1="229.27" x2="206" y2="229.27" stroke="#2b2b2b" stroke-width="0.9" />
<line x1="204.8" y1="219.05" x2="206" y2="219.05" stroke="#2b2b2b" stroke-width="0.9" />
<line x1="204.8" y1="208.82" x2="206" y2="208.82" stroke="#2b2b2b" stroke-width="0.9" />
<line x1="204.8" y1="198.6" x2="206" y2="198.6" stroke="#2b2b2b" stroke-width="0.9" />
<line x1="204.8" y1="188.38" x2="206" y2="188.38" stroke="#2b2b2b" stroke-width="0.9" />
<line x1="204.8" y1="178.15" x2="206" y2="178.15" stroke="#2b2b2b" stroke-width="0.9" />
<line x1="204.8" y1="167.93" x2="206" y2="167.93" stroke="#2b2b2b" stroke-width="0.9" />
<line x1="204.8" y1="157.7" x2="206" y2="157.7" stroke="#2b2b2b" stroke-width="0.9" />
<line x1="204.8" y1="147.47" x2="206" y2="147.47" stroke="#2b2b2b" stroke-width="0.9" />
<text x="203.6" y="242.3" font-size="8.3" text-anchor="end" font-family='"Liberation Serif", serif' fill="#1a1a1a"  stroke="#1a1a1a" stroke-width="0.12">−2</text>
<text x="203.6" y="221.85" font-size="8.3" text-anchor="end" font-family='"Liberation Serif", serif' fill="#1a1a1a"  stroke="#1a1a1a" stroke-width="0.12">−1</text>
<text x="203.6" y="201.4" font-size="8.3" text-anchor="end" font-family='"Liberation Serif", serif' fill="#1a1a1a"  stroke="#1a1a1a" stroke-width="0.12">0</text>
<text x="203.6" y="180.95" font-size="8.3" text-anchor="end" font-family='"Liberation Serif", serif' fill="#1a1a1a"  stroke="#1a1a1a" stroke-width="0.12">1</text>
<text x="203.6" y="160.5" font-size="8.3" text-anchor="end" font-family='"Liberation Serif", serif' fill="#1a1a1a"  stroke="#1a1a1a" stroke-width="0.12">2</text>
<text x="205.2" y="260" font-size="8.3" text-anchor="middle" font-family='"Liberation Serif", serif' fill="#1a1a1a"  stroke="#1a1a1a" stroke-width="0.12">0.5</text>
<text x="232.8" y="260" font-size="8.3" text-anchor="middle" font-family='"Liberation Serif", serif' fill="#1a1a1a"  stroke="#1a1a1a" stroke-width="0.12">1.0</text>
<text x="260.4" y="260" font-size="8.3" text-anchor="middle" font-family='"Liberation Serif", serif' fill="#1a1a1a"  stroke="#1a1a1a" stroke-width="0.12">1.5</text>
<text x="288" y="260" font-size="8.3" text-anchor="middle" font-family='"Liberation Serif", serif' fill="#1a1a1a"  stroke="#1a1a1a" stroke-width="0.12">2.0</text>
<text x="315.6" y="260" font-size="8.3" text-anchor="middle" font-family='"Liberation Serif", serif' fill="#1a1a1a"  stroke="#1a1a1a" stroke-width="0.12">2.5</text>
<text x="343.2" y="260" font-size="8.3" text-anchor="middle" font-family='"Liberation Serif", serif' fill="#1a1a1a"  stroke="#1a1a1a" stroke-width="0.12">3.0</text>
<text x="271.25" y="270.3" font-size="8.4" text-anchor="middle" font-family='"Liberation Serif", serif' fill="#1a1a1a"  textLength="86.5" lengthAdjust="spacingAndGlyphs" stroke="#1a1a1a" stroke-width="0.12">Log (Scan Rate) / mV s<tspan font-size="5.2" dy="-3.3">−1</tspan></text>
<text x="190.5" y="199.65" font-size="7.7" text-anchor="middle" font-family='"Liberation Serif", serif' fill="#1a1a1a" transform="rotate(-90 190.5 199.65)"  textLength="98.7" lengthAdjust="spacingAndGlyphs" stroke="#1a1a1a" stroke-width="0.12">Log (Current Density) / A g<tspan font-size="5" dy="-3.1">−1</tspan></text>
<text x="180.8" y="151.2" font-size="14" text-anchor="start" font-family='"Liberation Serif", serif' fill="#111" font-weight="bold"  stroke="#111" stroke-width="0.12">e</text>
<text x="242" y="175.5" font-size="8.2" text-anchor="middle" font-family='"Liberation Serif", serif' fill="#e8393a"  textLength="22.4" lengthAdjust="spacingAndGlyphs" stroke="#e8393a" stroke-width="0.12">Charge</text>
<text x="243.4" y="231.9" font-size="8.2" text-anchor="middle" font-family='"Liberation Serif", serif' fill="#222"  textLength="31.4" lengthAdjust="spacingAndGlyphs" stroke="#222" stroke-width="0.12">Discharge</text>
<text x="318" y="179.6" font-size="13.2" text-anchor="middle" font-family='"Liberation Serif", serif' fill="#111"  textLength="21.1" lengthAdjust="spacingAndGlyphs" stroke="#111" stroke-width="0.12">0.94</text>
<text x="318" y="231.2" font-size="13.2" text-anchor="middle" font-family='"Liberation Serif", serif' fill="#111"  textLength="21.1" lengthAdjust="spacingAndGlyphs" stroke="#111" stroke-width="0.12">0.88</text>
<path d="M389.2,231 C389.68,228.79 391.69,218.09 392.8,214.4 C393.91,210.71 396.01,206.45 397.5,203.3 C398.99,200.15 402.27,193.69 404,190.8 C405.73,187.91 408.57,184.04 410.5,181.6 C412.43,179.16 416.38,174.53 418.5,172.5 C420.62,170.47 424.09,167.83 426.4,166.4 C428.71,164.97 433.09,162.73 435.8,161.8 C438.51,160.87 444.01,159.83 446.7,159.4 C449.39,158.97 453.56,158.73 456,158.6 C458.44,158.47 462.6,158.35 465,158.4 C467.4,158.45 471.6,158.71 474,159 C476.4,159.29 480.33,159.95 483,160.6 C485.67,161.25 491.43,163.18 494,163.9 C496.57,164.62 501.19,165.72 502.3,166 L502.3,166 C502.34,166.6 502.75,169.53 502.6,170.5 C502.45,171.47 501.61,172.07 501.2,173.3 C500.79,174.53 500.14,177.27 499.5,179.7 C498.86,182.13 497.37,188.82 496.4,191.5 C495.43,194.18 493.48,197.79 492.2,199.8 C490.92,201.81 488.48,205.04 486.8,206.6 C485.12,208.16 481.81,210.35 479.6,211.5 C477.39,212.65 473.27,214.09 470.2,215.2 C467.13,216.31 460.49,218.67 456.6,219.8 C452.71,220.93 444.55,222.81 441,223.7 C437.45,224.59 433.33,225.82 430,226.5 C426.67,227.18 419.87,228.11 416,228.8 C412.13,229.49 404.33,231.06 401,231.7 C397.67,232.34 392.57,233.32 391,233.6 C389.43,233.88 389.44,233.77 389.2,233.8" fill="none" stroke="#6a5858" stroke-width="0.8" stroke-linejoin="round" />
<path d="M390.8,230.6 C391.27,228.51 393.22,218.43 394.3,214.9 C395.38,211.37 397.46,207.19 398.9,204.1 C400.34,201.01 403.45,194.59 405.1,191.7 C406.75,188.81 409.45,184.87 411.3,182.4 C413.15,179.93 416.95,175.25 419,173.2 C421.05,171.15 424.43,168.44 426.7,167 C428.97,165.56 433.32,163.33 436,162.4 C438.68,161.47 444.13,160.43 446.8,160 C449.47,159.57 453.57,159.33 456,159.2 C458.43,159.07 462.6,158.92 465,159 C467.4,159.08 471.6,159.43 474,159.8 C476.4,160.17 480.39,161.03 483,161.8 C485.61,162.57 491.21,164.73 493.6,165.6 C495.99,166.47 499.93,167.94 500.9,168.3 L500.9,168.3 C500.85,168.93 500.75,171.51 500.5,173 C500.25,174.49 499.6,177.06 499,179.5 C498.4,181.94 496.96,188.62 496,191.3 C495.04,193.98 493.07,197.61 491.8,199.6 C490.53,201.59 488.15,204.68 486.5,206.2 C484.85,207.72 481.6,209.92 479.4,211 C477.2,212.08 473.04,213.29 470,214.3 C466.96,215.31 460.47,217.53 456.6,218.6 C452.73,219.67 444.57,221.47 441,222.3 C437.43,223.13 433.13,224.19 429.8,224.8 C426.47,225.41 419.92,226.35 416,226.9 C412.08,227.45 403.76,228.41 400.4,228.9 C397.04,229.39 392.08,230.37 390.8,230.6 Z" fill="#137c3c" stroke="none" stroke-width="0" stroke-linejoin="round" />
<path d="M388,230.9 L390.9,230.9 L390.9,237.5 L389.8,238.8 L388.6,238.8 L388,237.5 Z" fill="#137c3c"/>
<rect x="501.2" y="166" width="1.9" height="4.7" fill="#137c3c" stroke="none" stroke-width="1" />
<line x1="441.2" y1="226.5" x2="441.2" y2="236.3" stroke="#111" stroke-width="0.9" />
<path d="M441.2,223.4 L439.8,227.3 L442.6,227.3 Z" fill="#111"/>
<rect x="376.6" y="147.6" width="137.6" height="102.7" fill="none" stroke="#2b2b2b" stroke-width="1.35" />
<line x1="389" y1="250.3" x2="389" y2="248.3" stroke="#2b2b2b" stroke-width="0.9" />
<line x1="411.74" y1="250.3" x2="411.74" y2="248.3" stroke="#2b2b2b" stroke-width="0.9" />
<line x1="434.48" y1="250.3" x2="434.48" y2="248.3" stroke="#2b2b2b" stroke-width="0.9" />
<line x1="457.22" y1="250.3" x2="457.22" y2="248.3" stroke="#2b2b2b" stroke-width="0.9" />
<line x1="479.96" y1="250.3" x2="479.96" y2="248.3" stroke="#2b2b2b" stroke-width="0.9" />
<line x1="502.7" y1="250.3" x2="502.7" y2="248.3" stroke="#2b2b2b" stroke-width="0.9" />
<line x1="377.63" y1="250.3" x2="377.63" y2="249.1" stroke="#2b2b2b" stroke-width="0.9" />
<line x1="400.37" y1="250.3" x2="400.37" y2="249.1" stroke="#2b2b2b" stroke-width="0.9" />
<line x1="423.11" y1="250.3" x2="423.11" y2="249.1" stroke="#2b2b2b" stroke-width="0.9" />
<line x1="445.85" y1="250.3" x2="445.85" y2="249.1" stroke="#2b2b2b" stroke-width="0.9" />
<line x1="468.59" y1="250.3" x2="468.59" y2="249.1" stroke="#2b2b2b" stroke-width="0.9" />
<line x1="491.33" y1="250.3" x2="491.33" y2="249.1" stroke="#2b2b2b" stroke-width="0.9" />
<line x1="514.07" y1="250.3" x2="514.07" y2="249.1" stroke="#2b2b2b" stroke-width="0.9" />
<line x1="376.6" y1="236.57" x2="378.6" y2="236.57" stroke="#2b2b2b" stroke-width="0.9" />
<line x1="376.6" y1="222.75" x2="378.6" y2="222.75" stroke="#2b2b2b" stroke-width="0.9" />
<line x1="376.6" y1="208.92" x2="378.6" y2="208.92" stroke="#2b2b2b" stroke-width="0.9" />
<line x1="376.6" y1="195.1" x2="378.6" y2="195.1" stroke="#2b2b2b" stroke-width="0.9" />
<line x1="376.6" y1="181.28" x2="378.6" y2="181.28" stroke="#2b2b2b" stroke-width="0.9" />
<line x1="376.6" y1="167.45" x2="378.6" y2="167.45" stroke="#2b2b2b" stroke-width="0.9" />
<line x1="376.6" y1="153.62" x2="378.6" y2="153.62" stroke="#2b2b2b" stroke-width="0.9" />
<line x1="376.6" y1="243.49" x2="377.8" y2="243.49" stroke="#2b2b2b" stroke-width="0.9" />
<line x1="376.6" y1="229.66" x2="377.8" y2="229.66" stroke="#2b2b2b" stroke-width="0.9" />
<line x1="376.6" y1="215.84" x2="377.8" y2="215.84" stroke="#2b2b2b" stroke-width="0.9" />
<line x1="376.6" y1="202.01" x2="377.8" y2="202.01" stroke="#2b2b2b" stroke-width="0.9" />
<line x1="376.6" y1="188.19" x2="377.8" y2="188.19" stroke="#2b2b2b" stroke-width="0.9" />
<line x1="376.6" y1="174.36" x2="377.8" y2="174.36" stroke="#2b2b2b" stroke-width="0.9" />
<line x1="376.6" y1="160.54" x2="377.8" y2="160.54" stroke="#2b2b2b" stroke-width="0.9" />
<text x="375.6" y="253.33" font-size="7.8" text-anchor="end" font-family='"Liberation Serif", serif' fill="#1a1a1a"  stroke="#1a1a1a" stroke-width="0.12">−200</text>
<text x="375.6" y="239.51" font-size="7.8" text-anchor="end" font-family='"Liberation Serif", serif' fill="#1a1a1a"  stroke="#1a1a1a" stroke-width="0.12">−150</text>
<text x="375.6" y="225.68" font-size="7.8" text-anchor="end" font-family='"Liberation Serif", serif' fill="#1a1a1a"  stroke="#1a1a1a" stroke-width="0.12">−100</text>
<text x="375.6" y="211.86" font-size="7.8" text-anchor="end" font-family='"Liberation Serif", serif' fill="#1a1a1a"  stroke="#1a1a1a" stroke-width="0.12">−50</text>
<text x="375.6" y="198.03" font-size="7.8" text-anchor="end" font-family='"Liberation Serif", serif' fill="#1a1a1a"  stroke="#1a1a1a" stroke-width="0.12">0</text>
<text x="375.6" y="184.21" font-size="7.8" text-anchor="end" font-family='"Liberation Serif", serif' fill="#1a1a1a"  stroke="#1a1a1a" stroke-width="0.12">50</text>
<text x="375.6" y="170.38" font-size="7.8" text-anchor="end" font-family='"Liberation Serif", serif' fill="#1a1a1a"  stroke="#1a1a1a" stroke-width="0.12">100</text>
<text x="375.6" y="156.56" font-size="7.8" text-anchor="end" font-family='"Liberation Serif", serif' fill="#1a1a1a"  stroke="#1a1a1a" stroke-width="0.12">150</text>
<text x="389" y="259.3" font-size="8.3" text-anchor="middle" font-family='"Liberation Serif", serif' fill="#1a1a1a"  stroke="#1a1a1a" stroke-width="0.12">−1.0</text>
<text x="411.74" y="259.3" font-size="8.3" text-anchor="middle" font-family='"Liberation Serif", serif' fill="#1a1a1a"  stroke="#1a1a1a" stroke-width="0.12">−0.8</text>
<text x="434.48" y="259.3" font-size="8.3" text-anchor="middle" font-family='"Liberation Serif", serif' fill="#1a1a1a"  stroke="#1a1a1a" stroke-width="0.12">−0.6</text>
<text x="457.22" y="259.3" font-size="8.3" text-anchor="middle" font-family='"Liberation Serif", serif' fill="#1a1a1a"  stroke="#1a1a1a" stroke-width="0.12">−0.4</text>
<text x="479.96" y="259.3" font-size="8.3" text-anchor="middle" font-family='"Liberation Serif", serif' fill="#1a1a1a"  stroke="#1a1a1a" stroke-width="0.12">−0.2</text>
<text x="502.7" y="259.3" font-size="8.3" text-anchor="middle" font-family='"Liberation Serif", serif' fill="#1a1a1a"  stroke="#1a1a1a" stroke-width="0.12">0.0</text>
<text x="439.55" y="267.6" font-size="8.4" text-anchor="middle" font-family='"Liberation Serif", serif' fill="#1a1a1a"  textLength="84.1" lengthAdjust="spacingAndGlyphs" stroke="#1a1a1a" stroke-width="0.12">Potential (V vs.Hg/HgO)</text>
<text x="357.9" y="199.65" font-size="8.4" text-anchor="middle" font-family='"Liberation Serif", serif' fill="#1a1a1a" transform="rotate(-90 357.9 199.65)"  textLength="79.3" lengthAdjust="spacingAndGlyphs" stroke="#1a1a1a" stroke-width="0.12">Current density (A g<tspan font-size="5.2" dy="-3.3">−1</tspan><tspan dy="3.3">)</tspan></text>
<text x="354.3" y="151.4" font-size="14.5" text-anchor="start" font-family='"Liberation Serif", serif' fill="#111"  stroke="#111" stroke-width="0.12">f</text>
<text x="482.1" y="158.4" font-size="5.3" text-anchor="start" font-family='"Liberation Mono", monospace' fill="#555"  textLength="27.2" lengthAdjust="spacingAndGlyphs">500 mV s<tspan font-size="3.6" dy="-2.2">−1</tspan></text>
<text x="448.6" y="190.6" font-size="5.3" text-anchor="middle" font-family='"Liberation Mono", monospace' fill="#cfe6d3"  textLength="15.9" lengthAdjust="spacingAndGlyphs">92.9%</text>
<text x="447.5" y="196.1" font-size="5.3" text-anchor="middle" font-family='"Liberation Mono", monospace' fill="#cfe6d3"  textLength="37.1" lengthAdjust="spacingAndGlyphs">Fast Kinetics</text>
<text x="438.7" y="241.3" font-size="5.3" text-anchor="middle" font-family='"Liberation Mono", monospace' fill="#555"  textLength="37.1" lengthAdjust="spacingAndGlyphs">Slow Kinetics</text>
<defs>
<linearGradient id="gG" x1="0" x2="1" y1="0" y2="0">
<stop offset="0" stop-color="#1c261c"/><stop offset="0.14" stop-color="#5e8c5c"/><stop offset="0.32" stop-color="#9ccf98"/>
<stop offset="0.6" stop-color="#9ac896"/><stop offset="0.84" stop-color="#5e8a5c"/><stop offset="1" stop-color="#1c261c"/></linearGradient>
<linearGradient id="gO" x1="0" x2="1" y1="0" y2="0">
<stop offset="0" stop-color="#2c2118"/><stop offset="0.14" stop-color="#b0845e"/><stop offset="0.32" stop-color="#f6c494"/>
<stop offset="0.6" stop-color="#f2bd8b"/><stop offset="0.84" stop-color="#ae835e"/><stop offset="1" stop-color="#2c2118"/></linearGradient>
</defs>
<rect x="36.9" y="301.2" width="12" height="37.93" fill="url(#gG)" stroke="none" stroke-width="1" />
<rect x="36.9" y="339.13" width="12" height="48.27" fill="url(#gO)" stroke="none" stroke-width="1" />
<line x1="38.4" y1="339.13" x2="47.4" y2="339.13" stroke="#2a3a2a" stroke-width="0.7" />
<text x="43.2" y="316.7" font-size="5.2" text-anchor="middle" font-family='"Liberation Sans", sans-serif' fill="#1e2a1e"  textLength="7.8" lengthAdjust="spacingAndGlyphs" stroke="#1e2a1e" stroke-width="0.1">44%</text>
<text x="43.2" y="368.1" font-size="5.2" text-anchor="middle" font-family='"Liberation Sans", sans-serif' fill="#3a2a1a"  textLength="7.8" lengthAdjust="spacingAndGlyphs" stroke="#3a2a1a" stroke-width="0.1">56%</text>
<rect x="56.32" y="301.2" width="12" height="36.2" fill="url(#gG)" stroke="none" stroke-width="1" />
<rect x="56.32" y="337.4" width="12" height="50" fill="url(#gO)" stroke="none" stroke-width="1" />
<line x1="57.82" y1="337.4" x2="66.82" y2="337.4" stroke="#2a3a2a" stroke-width="0.7" />
<text x="62.62" y="316.7" font-size="5.2" text-anchor="middle" font-family='"Liberation Sans", sans-serif' fill="#1e2a1e"  textLength="7.8" lengthAdjust="spacingAndGlyphs" stroke="#1e2a1e" stroke-width="0.1">42%</text>
<text x="62.62" y="368.1" font-size="5.2" text-anchor="middle" font-family='"Liberation Sans", sans-serif' fill="#3a2a1a"  textLength="7.8" lengthAdjust="spacingAndGlyphs" stroke="#3a2a1a" stroke-width="0.1">58%</text>
<rect x="75.74" y="301.2" width="12" height="35.34" fill="url(#gG)" stroke="none" stroke-width="1" />
<rect x="75.74" y="336.54" width="12" height="50.86" fill="url(#gO)" stroke="none" stroke-width="1" />
<line x1="77.24" y1="336.54" x2="86.24" y2="336.54" stroke="#2a3a2a" stroke-width="0.7" />
<text x="82.04" y="316.7" font-size="5.2" text-anchor="middle" font-family='"Liberation Sans", sans-serif' fill="#1e2a1e"  textLength="7.8" lengthAdjust="spacingAndGlyphs" stroke="#1e2a1e" stroke-width="0.1">41%</text>
<text x="82.04" y="368.1" font-size="5.2" text-anchor="middle" font-family='"Liberation Sans", sans-serif' fill="#3a2a1a"  textLength="7.8" lengthAdjust="spacingAndGlyphs" stroke="#3a2a1a" stroke-width="0.1">59%</text>
<rect x="95.16" y="301.2" width="12" height="32.76" fill="url(#gG)" stroke="none" stroke-width="1" />
<rect x="95.16" y="333.96" width="12" height="53.44" fill="url(#gO)" stroke="none" stroke-width="1" />
<line x1="96.66" y1="333.96" x2="105.66" y2="333.96" stroke="#2a3a2a" stroke-width="0.7" />
<text x="101.46" y="316.7" font-size="5.2" text-anchor="middle" font-family='"Liberation Sans", sans-serif' fill="#1e2a1e"  textLength="7.8" lengthAdjust="spacingAndGlyphs" stroke="#1e2a1e" stroke-width="0.1">38%</text>
<text x="101.46" y="368.1" font-size="5.2" text-anchor="middle" font-family='"Liberation Sans", sans-serif' fill="#3a2a1a"  textLength="7.8" lengthAdjust="spacingAndGlyphs" stroke="#3a2a1a" stroke-width="0.1">62%</text>
<rect x="114.58" y="301.2" width="12" height="29.31" fill="url(#gG)" stroke="none" stroke-width="1" />
<rect x="114.58" y="330.51" width="12" height="56.89" fill="url(#gO)" stroke="none" stroke-width="1" />
<line x1="116.08" y1="330.51" x2="125.08" y2="330.51" stroke="#2a3a2a" stroke-width="0.7" />
<text x="120.88" y="316.7" font-size="5.2" text-anchor="middle" font-family='"Liberation Sans", sans-serif' fill="#1e2a1e"  textLength="7.8" lengthAdjust="spacingAndGlyphs" stroke="#1e2a1e" stroke-width="0.1">34%</text>
<text x="120.88" y="368.1" font-size="5.2" text-anchor="middle" font-family='"Liberation Sans", sans-serif' fill="#3a2a1a"  textLength="7.8" lengthAdjust="spacingAndGlyphs" stroke="#3a2a1a" stroke-width="0.1">66%</text>
<rect x="134" y="301.2" width="12" height="18.96" fill="url(#gG)" stroke="none" stroke-width="1" />
<rect x="134" y="320.16" width="12" height="67.24" fill="url(#gO)" stroke="none" stroke-width="1" />
<line x1="135.5" y1="320.16" x2="144.5" y2="320.16" stroke="#2a3a2a" stroke-width="0.7" />
<text x="140.3" y="316.7" font-size="5.2" text-anchor="middle" font-family='"Liberation Sans", sans-serif' fill="#1e2a1e"  textLength="7.8" lengthAdjust="spacingAndGlyphs" stroke="#1e2a1e" stroke-width="0.1">22%</text>
<text x="140.3" y="368.1" font-size="5.2" text-anchor="middle" font-family='"Liberation Sans", sans-serif' fill="#3a2a1a"  textLength="7.8" lengthAdjust="spacingAndGlyphs" stroke="#3a2a1a" stroke-width="0.1">78%</text>
<rect x="153.42" y="301.2" width="12" height="6.03" fill="url(#gG)" stroke="none" stroke-width="1" />
<rect x="153.42" y="307.23" width="12" height="80.17" fill="url(#gO)" stroke="none" stroke-width="1" />
<line x1="154.92" y1="307.23" x2="163.92" y2="307.23" stroke="#2a3a2a" stroke-width="0.7" />
<text x="159.72" y="305.8" font-size="5.2" text-anchor="middle" font-family='"Liberation Sans", sans-serif' fill="#1e2a1e"  textLength="5.4" lengthAdjust="spacingAndGlyphs" stroke="#1e2a1e" stroke-width="0.1">7%</text>
<text x="159.72" y="368.1" font-size="5.2" text-anchor="middle" font-family='"Liberation Sans", sans-serif' fill="#3a2a1a"  textLength="7.8" lengthAdjust="spacingAndGlyphs" stroke="#3a2a1a" stroke-width="0.1">93%</text>
<rect x="32.8" y="285.4" width="136.2" height="102" fill="none" stroke="#454545" stroke-width="1.25" />
<line x1="32.8" y1="387.4" x2="34.8" y2="387.4" stroke="#454545" stroke-width="0.9" />
<line x1="32.8" y1="370.16" x2="34.8" y2="370.16" stroke="#454545" stroke-width="0.9" />
<line x1="32.8" y1="352.92" x2="34.8" y2="352.92" stroke="#454545" stroke-width="0.9" />
<line x1="32.8" y1="335.68" x2="34.8" y2="335.68" stroke="#454545" stroke-width="0.9" />
<line x1="32.8" y1="318.44" x2="34.8" y2="318.44" stroke="#454545" stroke-width="0.9" />
<line x1="32.8" y1="301.2" x2="34.8" y2="301.2" stroke="#454545" stroke-width="0.9" />
<line x1="32.8" y1="378.78" x2="34" y2="378.78" stroke="#454545" stroke-width="0.9" />
<line x1="32.8" y1="361.54" x2="34" y2="361.54" stroke="#454545" stroke-width="0.9" />
<line x1="32.8" y1="344.3" x2="34" y2="344.3" stroke="#454545" stroke-width="0.9" />
<line x1="32.8" y1="327.06" x2="34" y2="327.06" stroke="#454545" stroke-width="0.9" />
<line x1="32.8" y1="309.82" x2="34" y2="309.82" stroke="#454545" stroke-width="0.9" />
<text x="31.6" y="390.4" font-size="8.3" text-anchor="end" font-family='"Liberation Serif", serif' fill="#1a1a1a"  stroke="#1a1a1a" stroke-width="0.12">0</text>
<text x="31.6" y="373.16" font-size="8.3" text-anchor="end" font-family='"Liberation Serif", serif' fill="#1a1a1a"  stroke="#1a1a1a" stroke-width="0.12">20</text>
<text x="31.6" y="355.92" font-size="8.3" text-anchor="end" font-family='"Liberation Serif", serif' fill="#1a1a1a"  stroke="#1a1a1a" stroke-width="0.12">40</text>
<text x="31.6" y="338.68" font-size="8.3" text-anchor="end" font-family='"Liberation Serif", serif' fill="#1a1a1a"  stroke="#1a1a1a" stroke-width="0.12">60</text>
<text x="31.6" y="321.44" font-size="8.3" text-anchor="end" font-family='"Liberation Serif", serif' fill="#1a1a1a"  stroke="#1a1a1a" stroke-width="0.12">80</text>
<text x="31.6" y="304.2" font-size="8.3" text-anchor="end" font-family='"Liberation Serif", serif' fill="#1a1a1a"  stroke="#1a1a1a" stroke-width="0.12">100</text>
<text x="42.9" y="397.9" font-size="8.3" text-anchor="middle" font-family='"Liberation Serif", serif' fill="#1a1a1a"  stroke="#1a1a1a" stroke-width="0.12">5</text>
<text x="62.32" y="397.9" font-size="8.3" text-anchor="middle" font-family='"Liberation Serif", serif' fill="#1a1a1a"  stroke="#1a1a1a" stroke-width="0.12">10</text>
<text x="81.74" y="397.9" font-size="8.3" text-anchor="middle" font-family='"Liberation Serif", serif' fill="#1a1a1a"  stroke="#1a1a1a" stroke-width="0.12">20</text>
<text x="101.16" y="397.9" font-size="8.3" text-anchor="middle" font-family='"Liberation Serif", serif' fill="#1a1a1a"  stroke="#1a1a1a" stroke-width="0.12">50</text>
<text x="120.58" y="397.9" font-size="8.3" text-anchor="middle" font-family='"Liberation Serif", serif' fill="#1a1a1a"  stroke="#1a1a1a" stroke-width="0.12">100</text>
<text x="140" y="397.9" font-size="8.3" text-anchor="middle" font-family='"Liberation Serif", serif' fill="#1a1a1a"  stroke="#1a1a1a" stroke-width="0.12">200</text>
<text x="159.42" y="397.9" font-size="8.3" text-anchor="middle" font-family='"Liberation Serif", serif' fill="#1a1a1a"  stroke="#1a1a1a" stroke-width="0.12">500</text>
<text x="108.35" y="408" font-size="8.4" text-anchor="middle" font-family='"Liberation Serif", serif' fill="#1a1a1a"  textLength="62.1" lengthAdjust="spacingAndGlyphs" stroke="#1a1a1a" stroke-width="0.12">Scan rate (mV s<tspan font-size="5.2" dy="-3.3">−1</tspan><tspan dy="3.3">)</tspan></text>
<text x="15.1" y="335.7" font-size="8.4" text-anchor="middle" font-family='"Liberation Serif", serif' fill="#1a1a1a" transform="rotate(-90 15.1 335.7)"  textLength="74.4" lengthAdjust="spacingAndGlyphs" stroke="#1a1a1a" stroke-width="0.12">Capacity contribution</text>
<text x="7.9" y="289.2" font-size="14.5" text-anchor="start" font-family='"Liberation Serif", serif' fill="#111"  stroke="#111" stroke-width="0.12">g</text>
<rect x="46.3" y="288.7" width="8.2" height="4" fill="url(#gG)" stroke="none" stroke-width="1" />
<rect x="46.3" y="292.7" width="8.2" height="3.9" fill="url(#gO)" stroke="none" stroke-width="1" />
<rect x="46.3" y="288.7" width="8.2" height="7.9" fill="none" stroke="#333" stroke-width="0.6" />
<text x="58.1" y="291.7" font-size="5.8" text-anchor="start" font-family='"Liberation Serif", serif' fill="#2a2a2a"  textLength="52.9" lengthAdjust="spacingAndGlyphs" stroke="#2a2a2a" stroke-width="0.08">diffusion contribution</text>
<text x="58.1" y="296.3" font-size="5.8" text-anchor="start" font-family='"Liberation Serif", serif' fill="#2a2a2a"  textLength="55.6" lengthAdjust="spacingAndGlyphs" stroke="#2a2a2a" stroke-width="0.08">capacitive contribution</text>
<polyline points="214.82,387.8 214.82,382.21 216.17,373.94 217.53,369.33 218.89,365.51 220.24,362.14 221.6,359.06 222.95,356.19 224.31,353.49 225.66,350.93 227.02,348.48 228.37,346.13 229.73,343.86 231.09,341.67 232.44,339.54 233.8,337.46 235.15,335.44 236.51,333.47 237.86,331.54 239.22,329.65 240.57,327.8 241.93,325.99 243.29,324.21 244.64,322.45 246,320.73 247.35,319.03 248.71,317.36 250.06,315.71 251.42,314.08 252.77,312.48 254.13,310.9 255.48,309.33 256.84,307.79 258.2,306.26 259.55,304.75 260.91,303.25 262.26,301.78 263.62,300.31 264.97,298.86 266.33,297.43 267.68,296.01 269.04,294.6 270.39,297.07 271.74,299.53 273.09,301.99 274.44,304.45 275.79,306.9 277.15,309.35 278.5,311.79 279.85,314.23 281.2,316.67 282.55,319.1 283.9,321.52 285.25,323.94 286.6,326.36 287.95,328.77 289.3,331.17 290.65,333.57 292.01,335.96 293.36,338.35 294.71,340.73 296.06,343.1 297.41,345.46 298.76,347.82 300.11,350.17 301.46,352.51 302.81,354.85 304.16,357.17 305.52,359.49 306.87,361.79 308.22,364.08 309.57,366.36 310.92,368.63 312.27,370.88 313.62,373.11 314.97,375.32 316.32,377.52 317.67,379.68 319.02,381.82 320.38,383.91 321.73,385.93 323.08,387.8" fill="none" stroke="#404040" stroke-width="1.1" stroke-linejoin="round" />
<polyline points="214.64,387.8 214.64,380.34 215.26,376.62 215.89,373.62 216.52,370.86 217.15,368.23 217.78,365.7 218.41,363.25 219.04,360.86 219.67,358.51 220.3,356.21 220.93,353.95 221.56,351.73 222.19,349.53 222.82,347.36 223.45,345.22 224.08,343.09 224.71,340.99 225.34,338.91 225.97,336.85 226.6,334.8 227.23,332.77 227.86,330.76 228.48,328.76 229.11,326.77 229.74,324.8 230.37,322.84 231,320.89 231.63,318.95 232.26,317.02 232.89,315.11 233.52,313.2 234.15,311.3 234.78,309.41 235.41,307.53 236.04,305.66 236.67,303.8 237.3,301.95 237.93,300.1 238.56,298.26 239.19,296.43 239.82,294.6 240.46,296.93 241.11,299.26 241.76,301.59 242.41,303.92 243.06,306.25 243.7,308.58 244.35,310.91 245,313.24 245.65,315.57 246.29,317.9 246.94,320.23 247.59,322.56 248.24,324.89 248.89,327.22 249.53,329.55 250.18,331.88 250.83,334.21 251.48,336.54 252.13,338.87 252.77,341.2 253.42,343.53 254.07,345.86 254.72,348.19 255.37,350.52 256.01,352.85 256.66,355.18 257.31,357.51 257.96,359.84 258.6,362.17 259.25,364.5 259.9,366.83 260.55,369.16 261.2,371.49 261.84,373.82 262.49,376.15 263.14,378.48 263.79,380.81 264.44,383.14 265.08,385.47 265.73,387.8" fill="none" stroke="#e8393a" stroke-width="1.1" stroke-linejoin="round" />
<polyline points="214.45,387.8 214.45,383.14 214.69,379.94 214.92,377.17 215.15,374.54 215.39,371.99 215.62,369.51 215.86,367.08 216.09,364.7 216.33,362.34 216.56,360.01 216.79,357.71 217.03,355.44 217.26,353.18 217.5,350.94 217.73,348.72 217.97,346.52 218.2,344.33 218.44,342.15 218.67,339.99 218.9,337.83 219.14,335.69 219.37,333.56 219.61,331.44 219.84,329.33 220.08,327.23 220.31,325.14 220.54,323.06 220.78,320.98 221.01,318.91 221.25,316.85 221.48,314.8 221.72,312.75 221.95,310.71 222.18,308.68 222.42,306.65 222.65,304.63 222.89,302.61 223.12,300.6 223.36,298.59 223.59,296.59 223.83,294.6 224.06,296.93 224.29,299.26 224.53,301.59 224.76,303.92 225,306.25 225.23,308.58 225.47,310.91 225.7,313.24 225.93,315.57 226.17,317.9 226.4,320.23 226.64,322.56 226.87,324.89 227.11,327.22 227.34,329.55 227.57,331.88 227.81,334.21 228.04,336.54 228.28,338.87 228.51,341.2 228.75,343.53 228.98,345.86 229.22,348.19 229.45,350.52 229.68,352.85 229.92,355.18 230.15,357.51 230.39,359.84 230.62,362.17 230.86,364.5 231.09,366.83 231.32,369.16 231.56,371.49 231.79,373.82 232.03,376.15 232.26,378.48 232.5,380.81 232.73,383.14 232.96,385.47 233.2,387.8" fill="none" stroke="#2b6fd0" stroke-width="1.1" stroke-linejoin="round" />
<polyline points="214.27,387.8 214.27,387.8 214.37,385 214.47,382.39 214.58,379.84 214.68,377.34 214.78,374.87 214.89,372.43 214.99,370 215.09,367.6 215.2,365.21 215.3,362.83 215.4,360.46 215.51,358.11 215.61,355.76 215.72,353.42 215.82,351.09 215.92,348.77 216.03,346.46 216.13,344.15 216.23,341.85 216.34,339.56 216.44,337.27 216.54,334.98 216.65,332.71 216.75,330.43 216.85,328.16 216.96,325.9 217.06,323.64 217.16,321.39 217.27,319.13 217.37,316.89 217.47,314.64 217.58,312.4 217.68,310.17 217.78,307.93 217.89,305.7 217.99,303.48 218.09,301.25 218.2,299.03 218.3,296.81 218.4,294.6 218.53,296.93 218.66,299.26 218.78,301.59 218.91,303.92 219.03,306.25 219.16,308.58 219.29,310.91 219.41,313.24 219.54,315.57 219.67,317.9 219.79,320.23 219.92,322.56 220.05,324.89 220.17,327.22 220.3,329.55 220.42,331.88 220.55,334.21 220.68,336.54 220.8,338.87 220.93,341.2 221.06,343.53 221.18,345.86 221.31,348.19 221.44,350.52 221.56,352.85 221.69,355.18 221.81,357.51 221.94,359.84 222.07,362.17 222.19,364.5 222.32,366.83 222.45,369.16 222.57,371.49 222.7,373.82 222.83,376.15 222.95,378.48 223.08,380.81 223.2,383.14 223.33,385.47 223.46,387.8" fill="none" stroke="#3aae6a" stroke-width="1.1" stroke-linejoin="round" />
<polyline points="214.18,387.8 214.18,387.8 214.23,385.47 214.29,383.14 214.35,380.81 214.41,378.48 214.46,376.15 214.52,373.82 214.58,371.49 214.64,369.16 214.69,366.83 214.75,364.5 214.81,362.17 214.86,359.84 214.92,357.51 214.98,355.18 215.04,352.85 215.09,350.52 215.15,348.19 215.21,345.86 215.27,343.53 215.32,341.2 215.38,338.87 215.44,336.54 215.5,334.21 215.55,331.88 215.61,329.55 215.67,327.22 215.73,324.89 215.78,322.56 215.84,320.23 215.9,317.9 215.96,315.57 216.01,313.24 216.07,310.91 216.13,308.58 216.19,306.25 216.24,303.92 216.3,301.59 216.36,299.26 216.42,296.93 216.47,294.6 216.52,296.93 216.57,299.26 216.61,301.59 216.66,303.92 216.7,306.25 216.75,308.58 216.79,310.91 216.84,313.24 216.89,315.57 216.93,317.9 216.98,320.23 217.02,322.56 217.07,324.89 217.12,327.22 217.16,329.55 217.21,331.88 217.25,334.21 217.3,336.54 217.35,338.87 217.39,341.2 217.44,343.53 217.48,345.86 217.53,348.19 217.58,350.52 217.62,352.85 217.67,355.18 217.71,357.51 217.76,359.84 217.81,362.17 217.85,364.5 217.9,366.83 217.94,369.16 217.99,371.49 218.04,373.82 218.08,376.15 218.13,378.48 218.17,380.81 218.22,383.14 218.27,385.47 218.31,387.8" fill="none" stroke="#9b5fce" stroke-width="1.1" stroke-linejoin="round" />
<polyline points="213.9,387.8 213.9,387.8 213.93,385.47 213.96,383.14 213.98,380.81 214.01,378.48 214.04,376.15 214.07,373.82 214.09,371.49 214.12,369.16 214.15,366.83 214.18,364.5 214.2,362.17 214.23,359.84 214.26,357.51 214.29,355.18 214.31,352.85 214.34,350.52 214.37,348.19 214.4,345.86 214.42,343.53 214.45,341.2 214.48,338.87 214.51,336.54 214.53,334.21 214.56,331.88 214.59,329.55 214.62,327.22 214.64,324.89 214.67,322.56 214.7,320.23 214.73,317.9 214.75,315.57 214.78,313.24 214.81,310.91 214.84,308.58 214.86,306.25 214.89,303.92 214.92,301.59 214.95,299.26 214.98,296.93 215,294.6 215.03,296.93 215.06,299.26 215.09,301.59 215.11,303.92 215.14,306.25 215.17,308.58 215.2,310.91 215.22,313.24 215.25,315.57 215.28,317.9 215.31,320.23 215.33,322.56 215.36,324.89 215.39,327.22 215.42,329.55 215.44,331.88 215.47,334.21 215.5,336.54 215.53,338.87 215.55,341.2 215.58,343.53 215.61,345.86 215.64,348.19 215.66,350.52 215.69,352.85 215.72,355.18 215.75,357.51 215.77,359.84 215.8,362.17 215.83,364.5 215.86,366.83 215.89,369.16 215.91,371.49 215.94,373.82 215.97,376.15 216,378.48 216.02,380.81 216.05,383.14 216.08,385.47 216.11,387.8" fill="none" stroke="#d49a1a" stroke-width="1.5" stroke-linejoin="round" />
<rect x="204.8" y="285.3" width="137.7" height="102.6" fill="none" stroke="#2b2b2b" stroke-width="1.35" />
<line x1="213.9" y1="387.9" x2="213.9" y2="385.9" stroke="#2b2b2b" stroke-width="0.9" />
<line x1="232.28" y1="387.9" x2="232.28" y2="385.9" stroke="#2b2b2b" stroke-width="0.9" />
<line x1="250.66" y1="387.9" x2="250.66" y2="385.9" stroke="#2b2b2b" stroke-width="0.9" />
<line x1="269.04" y1="387.9" x2="269.04" y2="385.9" stroke="#2b2b2b" stroke-width="0.9" />
<line x1="287.42" y1="387.9" x2="287.42" y2="385.9" stroke="#2b2b2b" stroke-width="0.9" />
<line x1="305.8" y1="387.9" x2="305.8" y2="385.9" stroke="#2b2b2b" stroke-width="0.9" />
<line x1="324.18" y1="387.9" x2="324.18" y2="385.9" stroke="#2b2b2b" stroke-width="0.9" />
<line x1="223.09" y1="387.9" x2="223.09" y2="386.7" stroke="#2b2b2b" stroke-width="0.9" />
<line x1="241.47" y1="387.9" x2="241.47" y2="386.7" stroke="#2b2b2b" stroke-width="0.9" />
<line x1="259.85" y1="387.9" x2="259.85" y2="386.7" stroke="#2b2b2b" stroke-width="0.9" />
<line x1="278.23" y1="387.9" x2="278.23" y2="386.7" stroke="#2b2b2b" stroke-width="0.9" />
<line x1="296.61" y1="387.9" x2="296.61" y2="386.7" stroke="#2b2b2b" stroke-width="0.9" />
<line x1="314.99" y1="387.9" x2="314.99" y2="386.7" stroke="#2b2b2b" stroke-width="0.9" />
<line x1="333.37" y1="387.9" x2="333.37" y2="386.7" stroke="#2b2b2b" stroke-width="0.9" />
<line x1="204.8" y1="387.8" x2="206.8" y2="387.8" stroke="#2b2b2b" stroke-width="0.9" />
<line x1="204.8" y1="369.16" x2="206.8" y2="369.16" stroke="#2b2b2b" stroke-width="0.9" />
<line x1="204.8" y1="350.52" x2="206.8" y2="350.52" stroke="#2b2b2b" stroke-width="0.9" />
<line x1="204.8" y1="331.88" x2="206.8" y2="331.88" stroke="#2b2b2b" stroke-width="0.9" />
<line x1="204.8" y1="313.24" x2="206.8" y2="313.24" stroke="#2b2b2b" stroke-width="0.9" />
<line x1="204.8" y1="294.6" x2="206.8" y2="294.6" stroke="#2b2b2b" stroke-width="0.9" />
<line x1="204.8" y1="378.48" x2="206" y2="378.48" stroke="#2b2b2b" stroke-width="0.9" />
<line x1="204.8" y1="359.84" x2="206" y2="359.84" stroke="#2b2b2b" stroke-width="0.9" />
<line x1="204.8" y1="341.2" x2="206" y2="341.2" stroke="#2b2b2b" stroke-width="0.9" />
<line x1="204.8" y1="322.56" x2="206" y2="322.56" stroke="#2b2b2b" stroke-width="0.9" />
<line x1="204.8" y1="303.92" x2="206" y2="303.92" stroke="#2b2b2b" stroke-width="0.9" />
<text x="203.3" y="390.6" font-size="8.3" text-anchor="end" font-family='"Liberation Serif", serif' fill="#1a1a1a"  stroke="#1a1a1a" stroke-width="0.12">0.0</text>
<text x="203.3" y="371.96" font-size="8.3" text-anchor="end" font-family='"Liberation Serif", serif' fill="#1a1a1a"  stroke="#1a1a1a" stroke-width="0.12">−0.2</text>
<text x="203.3" y="353.32" font-size="8.3" text-anchor="end" font-family='"Liberation Serif", serif' fill="#1a1a1a"  stroke="#1a1a1a" stroke-width="0.12">−0.4</text>
<text x="203.3" y="334.68" font-size="8.3" text-anchor="end" font-family='"Liberation Serif", serif' fill="#1a1a1a"  stroke="#1a1a1a" stroke-width="0.12">−0.6</text>
<text x="203.3" y="316.04" font-size="8.3" text-anchor="end" font-family='"Liberation Serif", serif' fill="#1a1a1a"  stroke="#1a1a1a" stroke-width="0.12">−0.8</text>
<text x="203.3" y="297.4" font-size="8.3" text-anchor="end" font-family='"Liberation Serif", serif' fill="#1a1a1a"  stroke="#1a1a1a" stroke-width="0.12">−1.0</text>
<text x="213.9" y="397.7" font-size="8.3" text-anchor="middle" font-family='"Liberation Serif", serif' fill="#1a1a1a"  stroke="#1a1a1a" stroke-width="0.12">0</text>
<text x="232.28" y="397.7" font-size="8.3" text-anchor="middle" font-family='"Liberation Serif", serif' fill="#1a1a1a"  stroke="#1a1a1a" stroke-width="0.12">100</text>
<text x="250.66" y="397.7" font-size="8.3" text-anchor="middle" font-family='"Liberation Serif", serif' fill="#1a1a1a"  stroke="#1a1a1a" stroke-width="0.12">200</text>
<text x="269.04" y="397.7" font-size="8.3" text-anchor="middle" font-family='"Liberation Serif", serif' fill="#1a1a1a"  stroke="#1a1a1a" stroke-width="0.12">300</text>
<text x="287.42" y="397.7" font-size="8.3" text-anchor="middle" font-family='"Liberation Serif", serif' fill="#1a1a1a"  stroke="#1a1a1a" stroke-width="0.12">400</text>
<text x="305.8" y="397.7" font-size="8.3" text-anchor="middle" font-family='"Liberation Serif", serif' fill="#1a1a1a"  stroke="#1a1a1a" stroke-width="0.12">500</text>
<text x="324.18" y="397.7" font-size="8.3" text-anchor="middle" font-family='"Liberation Serif", serif' fill="#1a1a1a"  stroke="#1a1a1a" stroke-width="0.12">600</text>
<text x="278.55" y="406.6" font-size="8.4" text-anchor="middle" font-family='"Liberation Serif", serif' fill="#1a1a1a"  textLength="28.5" lengthAdjust="spacingAndGlyphs" stroke="#1a1a1a" stroke-width="0.12">Time (s)</text>
<text x="185.6" y="339.25" font-size="8.4" text-anchor="middle" font-family='"Liberation Serif", serif' fill="#1a1a1a" transform="rotate(-90 185.6 339.25)"  textLength="87.3" lengthAdjust="spacingAndGlyphs" stroke="#1a1a1a" stroke-width="0.12">Potential (V vs. Hg/HgO)</text>
<text x="179.4" y="288.8" font-size="14.5" text-anchor="start" font-family='"Liberation Serif", serif' fill="#111"  stroke="#111" stroke-width="0.12">h</text>
<line x1="304.8" y1="292.1" x2="317.9" y2="292.1" stroke="#404040" stroke-width="1.4" />
<text x="319.6" y="294.1" font-size="5.9" text-anchor="start" font-family='"Liberation Serif", serif' fill="#333"  textLength="16.1" lengthAdjust="spacingAndGlyphs">1 A g<tspan font-size="3.6" dy="-2.3">−1</tspan></text>
<line x1="304.8" y1="299.38" x2="317.9" y2="299.38" stroke="#e8393a" stroke-width="1.4" />
<text x="319.6" y="301.38" font-size="5.9" text-anchor="start" font-family='"Liberation Serif", serif' fill="#333"  textLength="16.1" lengthAdjust="spacingAndGlyphs">2 A g<tspan font-size="3.6" dy="-2.3">−1</tspan></text>
<line x1="304.8" y1="306.66" x2="317.9" y2="306.66" stroke="#2b6fd0" stroke-width="1.4" />
<text x="319.6" y="308.66" font-size="5.9" text-anchor="start" font-family='"Liberation Serif", serif' fill="#333"  textLength="16.1" lengthAdjust="spacingAndGlyphs">5 A g<tspan font-size="3.6" dy="-2.3">−1</tspan></text>
<line x1="304.8" y1="313.94" x2="317.9" y2="313.94" stroke="#3aae6a" stroke-width="1.4" />
<text x="319.6" y="315.94" font-size="5.9" text-anchor="start" font-family='"Liberation Serif", serif' fill="#333"  textLength="20.1" lengthAdjust="spacingAndGlyphs">10 A g<tspan font-size="3.6" dy="-2.3">−1</tspan></text>
<line x1="304.8" y1="321.22" x2="317.9" y2="321.22" stroke="#9b5fce" stroke-width="1.4" />
<text x="319.6" y="323.22" font-size="5.9" text-anchor="start" font-family='"Liberation Serif", serif' fill="#333"  textLength="20.1" lengthAdjust="spacingAndGlyphs">20 A g<tspan font-size="3.6" dy="-2.3">−1</tspan></text>
<line x1="304.8" y1="328.5" x2="317.9" y2="328.5" stroke="#d49a1a" stroke-width="1.4" />
<text x="319.6" y="330.5" font-size="5.9" text-anchor="start" font-family='"Liberation Serif", serif' fill="#333"  textLength="20.1" lengthAdjust="spacingAndGlyphs">50 A g<tspan font-size="3.6" dy="-2.3">−1</tspan></text>
<path d="M388.3,337.6 L389.5,335.3 L393,334.7 L420,334.9 L460,335.3 L502.6,335.5 L502.6,338.6 L499,339.4 L460,339.4 L420,339.3 L393,339.5 L389.3,339.3 Z" fill="#9a3434" stroke="#2b6fd0" stroke-width="0.9"/>
<path d="M388.6,337.4 C388.8,337.29 389.24,336.77 390,336.6 C390.76,336.43 388.33,336.21 394,336.2 C399.67,336.19 419.23,336.42 430,336.5 C440.77,336.58 459.8,336.73 470,336.8 C480.2,336.87 497.47,336.97 502,337 L502,337 C501.86,337.08 505.53,337.5 501,337.6 C496.47,337.7 480.06,337.69 470,337.7 C459.94,337.71 440.77,337.67 430,337.7 C419.23,337.73 399.87,337.94 394,337.9 C388.13,337.86 389.37,337.47 388.6,337.4 Z" fill="none" stroke="#5a2020" stroke-width="0.7" stroke-linejoin="round" />
<path d="M388.5,341.8 C388.54,341.26 388.56,338.94 388.8,338 C389.04,337.06 389.46,335.88 390.2,335.2 C390.94,334.52 392.78,333.61 394,333.2 C395.22,332.79 392.74,332.47 398.8,332.3 C404.86,332.13 426,331.87 436.8,332 C447.6,332.13 465.68,332.89 475,333.2 C484.32,333.51 498.69,334.06 502.6,334.2 L502.6,334.2 C502.56,334.57 502.81,336.21 502.3,336.8 C501.79,337.39 502.87,338.06 499,338.4 C495.13,338.74 481.94,338.93 475,339.2 C468.06,339.47 457.86,339.97 450,340.3 C442.14,340.63 428.21,341.29 419.5,341.5 C410.79,341.71 392.89,341.76 388.5,341.8 Z" fill="none" stroke="#3aae6a" stroke-width="1.1" stroke-linejoin="round" />
<path d="M388.5,347 C388.47,346.29 388.3,343.22 388.3,342 C388.3,340.78 387.99,339.89 388.5,338.4 C389.01,336.91 390.84,332.8 391.9,331.5 C392.96,330.2 394.53,329.65 396,329.2 C397.47,328.75 397.74,328.53 402.3,328.3 C406.86,328.07 420.86,327.6 428.2,327.6 C435.54,327.6 447.47,328.05 454.1,328.3 C460.73,328.56 468.13,329.03 475,329.4 C481.87,329.77 498.69,330.69 502.6,330.9 L502.6,330.9 C502.56,331.48 502.88,333.99 502.3,335 C501.72,336.01 502.37,337.28 498.5,338 C494.63,338.72 481.29,339.43 475,340.1 C468.71,340.77 460.73,342.02 454.1,342.7 C447.47,343.38 435.54,344.42 428.2,344.9 C420.86,345.38 407.92,345.8 402.3,346.1 C396.68,346.4 390.45,346.87 388.5,347 Z" fill="none" stroke="#a070d0" stroke-width="1.1" stroke-linejoin="round" />
<path d="M388.1,354.2 C388.16,353.18 388.33,348.87 388.5,347 C388.67,345.13 389.06,342.47 389.3,341 C389.54,339.53 389.75,337.88 390.2,336.6 C390.65,335.33 391.76,333.09 392.5,332 C393.24,330.91 394.01,329.96 395.4,328.9 C396.79,327.84 400.1,325.41 402.3,324.5 C404.5,323.59 407.23,322.98 410.9,322.5 C414.57,322.02 423.31,321.26 428.2,321.1 C433.09,320.94 440.51,321.16 445.4,321.4 C450.29,321.64 458.51,322.4 462.7,322.8 C466.89,323.2 469.35,323.69 475,324.2 C480.65,324.71 498.69,326.09 502.6,326.4 L502.6,326.4 C502.57,327.12 502.77,330.07 502.4,331.5 C502.03,332.93 501.33,335.15 500,336.5 C498.67,337.85 496.54,339.75 493,341 C489.46,342.25 480.51,344.25 475,345.3 C469.49,346.35 460.73,347.55 454.1,348.4 C447.47,349.25 435.54,350.52 428.2,351.3 C420.86,352.08 407.98,353.49 402.3,353.9 C396.62,354.31 390.11,354.16 388.1,354.2 Z" fill="none" stroke="#d49a1a" stroke-width="1.1" stroke-linejoin="round" />
<path d="M388.5,378.9 C388.98,376.58 390.92,366.54 391.9,362.5 C392.88,358.46 394.42,353.45 395.4,350.4 C396.38,347.35 397.58,343.93 398.8,341 C400.02,338.07 402.29,332.76 404,329.7 C405.71,326.64 408.7,322.2 410.9,319.4 C413.1,316.59 416.81,312.11 419.5,309.9 C422.19,307.69 426.71,305.2 429.9,303.8 C433.09,302.4 438.57,300.78 442,300 C445.43,299.22 450.93,298.54 454.1,298.3 C457.27,298.06 461.44,298.2 464.4,298.3 C467.36,298.4 471.51,298.48 475,299 C478.49,299.52 485.09,300.99 489,302 C492.91,303.01 500.67,305.52 502.6,306.1 L502.6,306.1 C502.16,307.79 500.51,314.61 499.5,318 C498.49,321.39 496.76,326.88 495.5,330 C494.24,333.12 492.37,337.62 490.6,340 C488.83,342.38 485.21,344.83 483,346.8 C480.79,348.77 478.61,351.68 475,353.9 C471.39,356.12 462.91,360.42 457.5,362.5 C452.09,364.58 443.4,366.89 436.8,368.6 C430.2,370.31 417.74,373.14 410.9,374.6 C404.06,376.06 391.67,378.29 388.5,378.9 Z" fill="none" stroke="#3cc0cc" stroke-width="1.1" stroke-linejoin="round" />
<rect x="376.6" y="285.6" width="137.6" height="103" fill="none" stroke="#2b2b2b" stroke-width="1.35" />
<line x1="388.7" y1="388.6" x2="388.7" y2="386.6" stroke="#2b2b2b" stroke-width="0.9" />
<line x1="411.5" y1="388.6" x2="411.5" y2="386.6" stroke="#2b2b2b" stroke-width="0.9" />
<line x1="434.3" y1="388.6" x2="434.3" y2="386.6" stroke="#2b2b2b" stroke-width="0.9" />
<line x1="457.1" y1="388.6" x2="457.1" y2="386.6" stroke="#2b2b2b" stroke-width="0.9" />
<line x1="479.9" y1="388.6" x2="479.9" y2="386.6" stroke="#2b2b2b" stroke-width="0.9" />
<line x1="502.7" y1="388.6" x2="502.7" y2="386.6" stroke="#2b2b2b" stroke-width="0.9" />
<line x1="377.3" y1="388.6" x2="377.3" y2="387.4" stroke="#2b2b2b" stroke-width="0.9" />
<line x1="400.1" y1="388.6" x2="400.1" y2="387.4" stroke="#2b2b2b" stroke-width="0.9" />
<line x1="422.9" y1="388.6" x2="422.9" y2="387.4" stroke="#2b2b2b" stroke-width="0.9" />
<line x1="445.7" y1="388.6" x2="445.7" y2="387.4" stroke="#2b2b2b" stroke-width="0.9" />
<line x1="468.5" y1="388.6" x2="468.5" y2="387.4" stroke="#2b2b2b" stroke-width="0.9" />
<line x1="491.3" y1="388.6" x2="491.3" y2="387.4" stroke="#2b2b2b" stroke-width="0.9" />
<line x1="514.1" y1="388.6" x2="514.1" y2="387.4" stroke="#2b2b2b" stroke-width="0.9" />
<line x1="376.6" y1="380.99" x2="378.6" y2="380.99" stroke="#2b2b2b" stroke-width="0.9" />
<line x1="376.6" y1="366.26" x2="378.6" y2="366.26" stroke="#2b2b2b" stroke-width="0.9" />
<line x1="376.6" y1="351.53" x2="378.6" y2="351.53" stroke="#2b2b2b" stroke-width="0.9" />
<line x1="376.6" y1="336.8" x2="378.6" y2="336.8" stroke="#2b2b2b" stroke-width="0.9" />
<line x1="376.6" y1="322.07" x2="378.6" y2="322.07" stroke="#2b2b2b" stroke-width="0.9" />
<line x1="376.6" y1="307.34" x2="378.6" y2="307.34" stroke="#2b2b2b" stroke-width="0.9" />
<line x1="376.6" y1="292.61" x2="378.6" y2="292.61" stroke="#2b2b2b" stroke-width="0.9" />
<line x1="376.6" y1="388.36" x2="377.8" y2="388.36" stroke="#2b2b2b" stroke-width="0.9" />
<line x1="376.6" y1="373.62" x2="377.8" y2="373.62" stroke="#2b2b2b" stroke-width="0.9" />
<line x1="376.6" y1="358.89" x2="377.8" y2="358.89" stroke="#2b2b2b" stroke-width="0.9" />
<line x1="376.6" y1="344.17" x2="377.8" y2="344.17" stroke="#2b2b2b" stroke-width="0.9" />
<line x1="376.6" y1="329.44" x2="377.8" y2="329.44" stroke="#2b2b2b" stroke-width="0.9" />
<line x1="376.6" y1="314.71" x2="377.8" y2="314.71" stroke="#2b2b2b" stroke-width="0.9" />
<line x1="376.6" y1="299.98" x2="377.8" y2="299.98" stroke="#2b2b2b" stroke-width="0.9" />
<text x="375.6" y="383.92" font-size="7.8" text-anchor="end" font-family='"Liberation Serif", serif' fill="#1a1a1a"  stroke="#1a1a1a" stroke-width="0.12">−150</text>
<text x="375.6" y="369.19" font-size="7.8" text-anchor="end" font-family='"Liberation Serif", serif' fill="#1a1a1a"  stroke="#1a1a1a" stroke-width="0.12">−100</text>
<text x="375.6" y="354.46" font-size="7.8" text-anchor="end" font-family='"Liberation Serif", serif' fill="#1a1a1a"  stroke="#1a1a1a" stroke-width="0.12">−50</text>
<text x="375.6" y="339.73" font-size="7.8" text-anchor="end" font-family='"Liberation Serif", serif' fill="#1a1a1a"  stroke="#1a1a1a" stroke-width="0.12">0</text>
<text x="375.6" y="325" font-size="7.8" text-anchor="end" font-family='"Liberation Serif", serif' fill="#1a1a1a"  stroke="#1a1a1a" stroke-width="0.12">50</text>
<text x="375.6" y="310.27" font-size="7.8" text-anchor="end" font-family='"Liberation Serif", serif' fill="#1a1a1a"  stroke="#1a1a1a" stroke-width="0.12">100</text>
<text x="375.6" y="295.54" font-size="7.8" text-anchor="end" font-family='"Liberation Serif", serif' fill="#1a1a1a"  stroke="#1a1a1a" stroke-width="0.12">150</text>
<text x="388.7" y="396.4" font-size="8.3" text-anchor="middle" font-family='"Liberation Serif", serif' fill="#1a1a1a"  stroke="#1a1a1a" stroke-width="0.12">−1.0</text>
<text x="411.5" y="396.4" font-size="8.3" text-anchor="middle" font-family='"Liberation Serif", serif' fill="#1a1a1a"  stroke="#1a1a1a" stroke-width="0.12">−0.8</text>
<text x="434.3" y="396.4" font-size="8.3" text-anchor="middle" font-family='"Liberation Serif", serif' fill="#1a1a1a"  stroke="#1a1a1a" stroke-width="0.12">−0.6</text>
<text x="457.1" y="396.4" font-size="8.3" text-anchor="middle" font-family='"Liberation Serif", serif' fill="#1a1a1a"  stroke="#1a1a1a" stroke-width="0.12">−0.4</text>
<text x="479.9" y="396.4" font-size="8.3" text-anchor="middle" font-family='"Liberation Serif", serif' fill="#1a1a1a"  stroke="#1a1a1a" stroke-width="0.12">−0.2</text>
<text x="502.7" y="396.4" font-size="8.3" text-anchor="middle" font-family='"Liberation Serif", serif' fill="#1a1a1a"  stroke="#1a1a1a" stroke-width="0.12">0.0</text>
<text x="446.5" y="405.9" font-size="8.4" text-anchor="middle" font-family='"Liberation Serif", serif' fill="#1a1a1a"  textLength="84.6" lengthAdjust="spacingAndGlyphs" stroke="#1a1a1a" stroke-width="0.12">Potential (V vs.Hg/HgO)</text>
<text x="358.3" y="335.95" font-size="8.4" text-anchor="middle" font-family='"Liberation Serif", serif' fill="#1a1a1a" transform="rotate(-90 358.3 335.95)"  textLength="79.1" lengthAdjust="spacingAndGlyphs" stroke="#1a1a1a" stroke-width="0.12">Current density (A g<tspan font-size="5.2" dy="-3.3">−1</tspan><tspan dy="3.3">)</tspan></text>
<text x="358" y="288.3" font-size="13" text-anchor="start" font-family='"Liberation Serif", serif' fill="#111" font-weight="bold"  stroke="#111" stroke-width="0.12">i</text>
<line x1="433.3" y1="373.4" x2="441.7" y2="373.4" stroke="#333333" stroke-width="1.3" />
<text x="443" y="375" font-size="4.6" text-anchor="start" font-family='"Liberation Serif", serif' fill="#333"  textLength="12.3" lengthAdjust="spacingAndGlyphs">5 mv s<tspan font-size="2.5" dy="-1.6">−1</tspan></text>
<line x1="460.2" y1="373.4" x2="467.8" y2="373.4" stroke="#c83a3a" stroke-width="1.3" />
<text x="469.2" y="375" font-size="4.6" text-anchor="start" font-family='"Liberation Serif", serif' fill="#333"  textLength="14.6" lengthAdjust="spacingAndGlyphs">10 mv s<tspan font-size="2.5" dy="-1.6">−1</tspan></text>
<line x1="486.3" y1="373.4" x2="494" y2="373.4" stroke="#2b6fd0" stroke-width="1.3" />
<text x="495.3" y="375" font-size="4.6" text-anchor="start" font-family='"Liberation Serif", serif' fill="#333"  textLength="14.6" lengthAdjust="spacingAndGlyphs">20 mv s<tspan font-size="2.5" dy="-1.6">−1</tspan></text>
<line x1="433.3" y1="377.25" x2="441.7" y2="377.25" stroke="#3aae6a" stroke-width="1.3" />
<text x="443" y="378.85" font-size="4.6" text-anchor="start" font-family='"Liberation Serif", serif' fill="#333"  textLength="14.6" lengthAdjust="spacingAndGlyphs">50 mv s<tspan font-size="2.5" dy="-1.6">−1</tspan></text>
<line x1="460.2" y1="377.25" x2="467.8" y2="377.25" stroke="#a070d0" stroke-width="1.3" />
<text x="469.2" y="378.85" font-size="4.6" text-anchor="start" font-family='"Liberation Serif", serif' fill="#333"  textLength="16.9" lengthAdjust="spacingAndGlyphs">100 mv s<tspan font-size="2.5" dy="-1.6">−1</tspan></text>
<line x1="486.3" y1="377.25" x2="494" y2="377.25" stroke="#d49a1a" stroke-width="1.3" />
<text x="495.3" y="378.85" font-size="4.6" text-anchor="start" font-family='"Liberation Serif", serif' fill="#333"  textLength="16.9" lengthAdjust="spacingAndGlyphs">200 mv s<tspan font-size="2.5" dy="-1.6">−1</tspan></text>
<line x1="433.3" y1="381.1" x2="441.7" y2="381.1" stroke="#3cc0cc" stroke-width="1.3" />
<text x="443" y="382.7" font-size="4.6" text-anchor="start" font-family='"Liberation Serif", serif' fill="#333"  textLength="16.9" lengthAdjust="spacingAndGlyphs">500 mv s<tspan font-size="2.5" dy="-1.6">−1</tspan></text>
<polyline points="33.2,523.4 34,512 34.8,500 35.5,488 36.3,471.2 37.1,460.8 38.4,447.7" fill="none" stroke="#4a4a4a" stroke-width="1" stroke-linejoin="round" />
<circle cx="33.2" cy="523.4" r="1.55" fill="#8c8c8c" stroke="#4a4a4a" stroke-width="0.9" />
<circle cx="33.37" cy="521.01" r="1.55" fill="#8c8c8c" stroke="#4a4a4a" stroke-width="0.9" />
<circle cx="33.54" cy="518.61" r="1.55" fill="#8c8c8c" stroke="#4a4a4a" stroke-width="0.9" />
<circle cx="33.7" cy="516.22" r="1.55" fill="#8c8c8c" stroke="#4a4a4a" stroke-width="0.9" />
<circle cx="33.87" cy="513.82" r="1.55" fill="#8c8c8c" stroke="#4a4a4a" stroke-width="0.9" />
<circle cx="34.04" cy="511.43" r="1.55" fill="#8c8c8c" stroke="#4a4a4a" stroke-width="0.9" />
<circle cx="34.2" cy="509.03" r="1.55" fill="#8c8c8c" stroke="#4a4a4a" stroke-width="0.9" />
<circle cx="34.36" cy="506.64" r="1.55" fill="#8c8c8c" stroke="#4a4a4a" stroke-width="0.9" />
<circle cx="34.52" cy="504.25" r="1.55" fill="#8c8c8c" stroke="#4a4a4a" stroke-width="0.9" />
<circle cx="34.68" cy="501.85" r="1.55" fill="#8c8c8c" stroke="#4a4a4a" stroke-width="0.9" />
<circle cx="34.83" cy="499.46" r="1.55" fill="#8c8c8c" stroke="#4a4a4a" stroke-width="0.9" />
<circle cx="34.97" cy="497.06" r="1.55" fill="#8c8c8c" stroke="#4a4a4a" stroke-width="0.9" />
<circle cx="35.11" cy="494.66" r="1.55" fill="#8c8c8c" stroke="#4a4a4a" stroke-width="0.9" />
<circle cx="35.25" cy="492.27" r="1.55" fill="#8c8c8c" stroke="#4a4a4a" stroke-width="0.9" />
<circle cx="35.39" cy="489.87" r="1.55" fill="#8c8c8c" stroke="#4a4a4a" stroke-width="0.9" />
<circle cx="36.3" cy="471.2" r="1.55" fill="#8c8c8c" stroke="#4a4a4a" stroke-width="0.9" />
<circle cx="37.1" cy="460.8" r="1.55" fill="#8c8c8c" stroke="#4a4a4a" stroke-width="0.9" />
<circle cx="38.4" cy="447.7" r="1.55" fill="#8c8c8c" stroke="#4a4a4a" stroke-width="0.9" />
<polyline points="34,523.4 35.2,517 36.5,510 37.8,501.5 38.7,495.2 39.2,489.6 40,483.2 41.1,475.5 42.1,466.4 43.5,455.5 45.9,441.9 48.2,426.5" fill="none" stroke="#2b72cc" stroke-width="1" stroke-linejoin="round" />
<circle cx="34" cy="523.4" r="1.6" fill="#6aa0e4" stroke="#2b72cc" stroke-width="0.9" />
<circle cx="34.33" cy="521.63" r="1.6" fill="#6aa0e4" stroke="#2b72cc" stroke-width="0.9" />
<circle cx="34.66" cy="519.86" r="1.6" fill="#6aa0e4" stroke="#2b72cc" stroke-width="0.9" />
<circle cx="35" cy="518.09" r="1.6" fill="#6aa0e4" stroke="#2b72cc" stroke-width="0.9" />
<circle cx="35.33" cy="516.32" r="1.6" fill="#6aa0e4" stroke="#2b72cc" stroke-width="0.9" />
<circle cx="35.65" cy="514.55" r="1.6" fill="#6aa0e4" stroke="#2b72cc" stroke-width="0.9" />
<circle cx="35.98" cy="512.78" r="1.6" fill="#6aa0e4" stroke="#2b72cc" stroke-width="0.9" />
<circle cx="36.31" cy="511.01" r="1.6" fill="#6aa0e4" stroke="#2b72cc" stroke-width="0.9" />
<circle cx="36.62" cy="509.24" r="1.6" fill="#6aa0e4" stroke="#2b72cc" stroke-width="0.9" />
<circle cx="36.89" cy="507.46" r="1.6" fill="#6aa0e4" stroke="#2b72cc" stroke-width="0.9" />
<circle cx="37.16" cy="505.68" r="1.6" fill="#6aa0e4" stroke="#2b72cc" stroke-width="0.9" />
<circle cx="37.43" cy="503.9" r="1.6" fill="#6aa0e4" stroke="#2b72cc" stroke-width="0.9" />
<circle cx="37.7" cy="502.12" r="1.6" fill="#6aa0e4" stroke="#2b72cc" stroke-width="0.9" />
<circle cx="37.97" cy="500.34" r="1.6" fill="#6aa0e4" stroke="#2b72cc" stroke-width="0.9" />
<circle cx="38.22" cy="498.56" r="1.6" fill="#6aa0e4" stroke="#2b72cc" stroke-width="0.9" />
<circle cx="38.47" cy="496.78" r="1.6" fill="#6aa0e4" stroke="#2b72cc" stroke-width="0.9" />
<circle cx="39.2" cy="489.6" r="1.6" fill="#6aa0e4" stroke="#2b72cc" stroke-width="0.9" />
<circle cx="40" cy="483.2" r="1.6" fill="#6aa0e4" stroke="#2b72cc" stroke-width="0.9" />
<circle cx="41.1" cy="475.5" r="1.6" fill="#6aa0e4" stroke="#2b72cc" stroke-width="0.9" />
<circle cx="42.1" cy="466.4" r="1.6" fill="#6aa0e4" stroke="#2b72cc" stroke-width="0.9" />
<circle cx="43.5" cy="455.5" r="1.6" fill="#6aa0e4" stroke="#2b72cc" stroke-width="0.9" />
<circle cx="45.9" cy="441.9" r="1.6" fill="#6aa0e4" stroke="#2b72cc" stroke-width="0.9" />
<circle cx="48.2" cy="426.5" r="1.6" fill="#6aa0e4" stroke="#2b72cc" stroke-width="0.9" />
<polyline points="33,523.4 33.5,512 34,500 34.3,490 34.4,483.2 34.7,476.5" fill="none" stroke="#e23a3a" stroke-width="1" stroke-linejoin="round" />
<circle cx="33" cy="523.4" r="1.55" fill="#f08080" stroke="#e23a3a" stroke-width="0.9" />
<circle cx="33.1" cy="521.1" r="1.55" fill="#f08080" stroke="#e23a3a" stroke-width="0.9" />
<circle cx="33.2" cy="518.8" r="1.55" fill="#f08080" stroke="#e23a3a" stroke-width="0.9" />
<circle cx="33.3" cy="516.51" r="1.55" fill="#f08080" stroke="#e23a3a" stroke-width="0.9" />
<circle cx="33.4" cy="514.21" r="1.55" fill="#f08080" stroke="#e23a3a" stroke-width="0.9" />
<circle cx="33.5" cy="511.91" r="1.55" fill="#f08080" stroke="#e23a3a" stroke-width="0.9" />
<circle cx="33.6" cy="509.61" r="1.55" fill="#f08080" stroke="#e23a3a" stroke-width="0.9" />
<circle cx="33.7" cy="507.32" r="1.55" fill="#f08080" stroke="#e23a3a" stroke-width="0.9" />
<circle cx="33.79" cy="505.02" r="1.55" fill="#f08080" stroke="#e23a3a" stroke-width="0.9" />
<circle cx="33.89" cy="502.72" r="1.55" fill="#f08080" stroke="#e23a3a" stroke-width="0.9" />
<circle cx="33.98" cy="500.42" r="1.55" fill="#f08080" stroke="#e23a3a" stroke-width="0.9" />
<circle cx="34.06" cy="498.12" r="1.55" fill="#f08080" stroke="#e23a3a" stroke-width="0.9" />
<circle cx="34.13" cy="495.82" r="1.55" fill="#f08080" stroke="#e23a3a" stroke-width="0.9" />
<circle cx="34.19" cy="493.52" r="1.55" fill="#f08080" stroke="#e23a3a" stroke-width="0.9" />
<circle cx="34.26" cy="491.23" r="1.55" fill="#f08080" stroke="#e23a3a" stroke-width="0.9" />
<circle cx="34.32" cy="488.93" r="1.55" fill="#f08080" stroke="#e23a3a" stroke-width="0.9" />
<circle cx="34.35" cy="486.63" r="1.55" fill="#f08080" stroke="#e23a3a" stroke-width="0.9" />
<circle cx="34.38" cy="484.33" r="1.55" fill="#f08080" stroke="#e23a3a" stroke-width="0.9" />
<circle cx="34.45" cy="482.03" r="1.55" fill="#f08080" stroke="#e23a3a" stroke-width="0.9" />
<circle cx="34.56" cy="479.73" r="1.55" fill="#f08080" stroke="#e23a3a" stroke-width="0.9" />
<circle cx="34.66" cy="477.43" r="1.55" fill="#f08080" stroke="#e23a3a" stroke-width="0.9" />
<rect x="32.8" y="422.5" width="136" height="101.2" fill="none" stroke="#2b2b2b" stroke-width="1.35" />
<line x1="32.8" y1="523.7" x2="32.8" y2="521.7" stroke="#2b2b2b" stroke-width="0.9" />
<line x1="59.92" y1="523.7" x2="59.92" y2="521.7" stroke="#2b2b2b" stroke-width="0.9" />
<line x1="87.04" y1="523.7" x2="87.04" y2="521.7" stroke="#2b2b2b" stroke-width="0.9" />
<line x1="114.16" y1="523.7" x2="114.16" y2="521.7" stroke="#2b2b2b" stroke-width="0.9" />
<line x1="141.28" y1="523.7" x2="141.28" y2="521.7" stroke="#2b2b2b" stroke-width="0.9" />
<line x1="168.4" y1="523.7" x2="168.4" y2="521.7" stroke="#2b2b2b" stroke-width="0.9" />
<line x1="46.36" y1="523.7" x2="46.36" y2="522.5" stroke="#2b2b2b" stroke-width="0.9" />
<line x1="73.48" y1="523.7" x2="73.48" y2="522.5" stroke="#2b2b2b" stroke-width="0.9" />
<line x1="100.6" y1="523.7" x2="100.6" y2="522.5" stroke="#2b2b2b" stroke-width="0.9" />
<line x1="127.72" y1="523.7" x2="127.72" y2="522.5" stroke="#2b2b2b" stroke-width="0.9" />
<line x1="154.84" y1="523.7" x2="154.84" y2="522.5" stroke="#2b2b2b" stroke-width="0.9" />
<line x1="32.8" y1="523.7" x2="34.8" y2="523.7" stroke="#2b2b2b" stroke-width="0.9" />
<line x1="32.8" y1="503.44" x2="34.8" y2="503.44" stroke="#2b2b2b" stroke-width="0.9" />
<line x1="32.8" y1="483.18" x2="34.8" y2="483.18" stroke="#2b2b2b" stroke-width="0.9" />
<line x1="32.8" y1="462.92" x2="34.8" y2="462.92" stroke="#2b2b2b" stroke-width="0.9" />
<line x1="32.8" y1="442.66" x2="34.8" y2="442.66" stroke="#2b2b2b" stroke-width="0.9" />
<line x1="32.8" y1="513.57" x2="34" y2="513.57" stroke="#2b2b2b" stroke-width="0.9" />
<line x1="32.8" y1="493.31" x2="34" y2="493.31" stroke="#2b2b2b" stroke-width="0.9" />
<line x1="32.8" y1="473.05" x2="34" y2="473.05" stroke="#2b2b2b" stroke-width="0.9" />
<line x1="32.8" y1="452.79" x2="34" y2="452.79" stroke="#2b2b2b" stroke-width="0.9" />
<line x1="32.8" y1="432.53" x2="34" y2="432.53" stroke="#2b2b2b" stroke-width="0.9" />
<text x="29.6" y="525.6" font-size="8.3" text-anchor="end" font-family='"Liberation Serif", serif' fill="#1a1a1a"  stroke="#1a1a1a" stroke-width="0.12">0</text>
<text x="29.6" y="505.34" font-size="8.3" text-anchor="end" font-family='"Liberation Serif", serif' fill="#1a1a1a"  stroke="#1a1a1a" stroke-width="0.12">20</text>
<text x="29.6" y="485.08" font-size="8.3" text-anchor="end" font-family='"Liberation Serif", serif' fill="#1a1a1a"  stroke="#1a1a1a" stroke-width="0.12">40</text>
<text x="29.6" y="464.82" font-size="8.3" text-anchor="end" font-family='"Liberation Serif", serif' fill="#1a1a1a"  stroke="#1a1a1a" stroke-width="0.12">60</text>
<text x="29.6" y="444.56" font-size="8.3" text-anchor="end" font-family='"Liberation Serif", serif' fill="#1a1a1a"  stroke="#1a1a1a" stroke-width="0.12">80</text>
<text x="29.6" y="424.3" font-size="8.3" text-anchor="end" font-family='"Liberation Serif", serif' fill="#1a1a1a"  stroke="#1a1a1a" stroke-width="0.12">100</text>
<text x="32.8" y="534.6" font-size="8.3" text-anchor="middle" font-family='"Liberation Serif", serif' fill="#1a1a1a"  stroke="#1a1a1a" stroke-width="0.12">0</text>
<text x="59.92" y="534.6" font-size="8.3" text-anchor="middle" font-family='"Liberation Serif", serif' fill="#1a1a1a"  stroke="#1a1a1a" stroke-width="0.12">20</text>
<text x="87.04" y="534.6" font-size="8.3" text-anchor="middle" font-family='"Liberation Serif", serif' fill="#1a1a1a"  stroke="#1a1a1a" stroke-width="0.12">40</text>
<text x="114.16" y="534.6" font-size="8.3" text-anchor="middle" font-family='"Liberation Serif", serif' fill="#1a1a1a"  stroke="#1a1a1a" stroke-width="0.12">60</text>
<text x="141.28" y="534.6" font-size="8.3" text-anchor="middle" font-family='"Liberation Serif", serif' fill="#1a1a1a"  stroke="#1a1a1a" stroke-width="0.12">80</text>
<text x="168.4" y="534.6" font-size="8.3" text-anchor="middle" font-family='"Liberation Serif", serif' fill="#1a1a1a"  stroke="#1a1a1a" stroke-width="0.12">100</text>
<text x="101.45" y="543" font-size="8.4" text-anchor="middle" font-family='"Liberation Serif", serif' fill="#1a1a1a"  textLength="31.1" lengthAdjust="spacingAndGlyphs" stroke="#1a1a1a" stroke-width="0.12">Z’ (ohm)</text>
<text x="14.9" y="476.85" font-size="7.9" text-anchor="middle" font-family='"Liberation Serif", serif' fill="#1a1a1a" transform="rotate(-90 14.9 476.85)"  textLength="36.3" lengthAdjust="spacingAndGlyphs" stroke="#1a1a1a" stroke-width="0.12">-Z’’ (ohm)</text>
<text x="7" y="425.8" font-size="15" text-anchor="start" font-family='"Liberation Serif", serif' fill="#111"  stroke="#111" stroke-width="0.12">j</text>
<rect x="66" y="422.5" width="102.8" height="77.9" fill="#fff" stroke="none" stroke-width="1" />
<clipPath id="jc"><rect x="66" y="422.5" width="102.8" height="77.9"/></clipPath>
<g clip-path="url(#jc)">
<path d="M71.77,500.4 C72.09,499.94 73.07,498.13 73.84,497.32 C74.62,496.51 75.86,495.58 76.95,495 C78.04,494.42 79.85,493.69 81.09,493.46 C82.33,493.23 83.99,493.29 85.23,493.46 C86.47,493.63 88.21,494.21 89.37,494.62 C90.53,495.02 91.98,495.81 92.99,496.16 C94,496.51 95.24,497.1 96.1,496.93 C96.95,496.76 97.91,496.1 98.68,495 C99.46,493.9 100.57,490.88 101.27,489.61 C101.97,488.33 102.72,487.62 103.34,486.52 C103.96,485.42 104.79,483.78 105.41,482.28 C106.03,480.78 106.55,478.99 107.48,476.5 C108.41,474.01 110.46,468.6 111.62,465.7 C112.79,462.81 114.24,460.35 115.24,457.22 C116.25,454.1 117.57,448.59 118.35,444.89 C119.13,441.19 120.11,434.4 120.42,432.55" fill="none" stroke="#4a4a4a" stroke-width="1" stroke-linejoin="round" />
<circle cx="71.77" cy="500.4" r="1.35" fill="#8c8c8c" stroke="#4a4a4a" stroke-width="0.9" />
<circle cx="72.5" cy="499.32" r="1.35" fill="#8c8c8c" stroke="#4a4a4a" stroke-width="0.9" />
<circle cx="73.22" cy="498.24" r="1.35" fill="#8c8c8c" stroke="#4a4a4a" stroke-width="0.9" />
<circle cx="73.99" cy="497.21" r="1.35" fill="#8c8c8c" stroke="#4a4a4a" stroke-width="0.9" />
<circle cx="75.04" cy="496.43" r="1.35" fill="#8c8c8c" stroke="#4a4a4a" stroke-width="0.9" />
<circle cx="76.08" cy="495.65" r="1.35" fill="#8c8c8c" stroke="#4a4a4a" stroke-width="0.9" />
<circle cx="77.15" cy="494.93" r="1.35" fill="#8c8c8c" stroke="#4a4a4a" stroke-width="0.9" />
<circle cx="78.37" cy="494.47" r="1.35" fill="#8c8c8c" stroke="#4a4a4a" stroke-width="0.9" />
<circle cx="79.59" cy="494.02" r="1.35" fill="#8c8c8c" stroke="#4a4a4a" stroke-width="0.9" />
<circle cx="80.81" cy="493.57" r="1.35" fill="#8c8c8c" stroke="#4a4a4a" stroke-width="0.9" />
<circle cx="82.09" cy="493.46" r="1.35" fill="#8c8c8c" stroke="#4a4a4a" stroke-width="0.9" />
<circle cx="83.39" cy="493.46" r="1.35" fill="#8c8c8c" stroke="#4a4a4a" stroke-width="0.9" />
<circle cx="84.69" cy="493.46" r="1.35" fill="#8c8c8c" stroke="#4a4a4a" stroke-width="0.9" />
<circle cx="85.96" cy="493.66" r="1.35" fill="#8c8c8c" stroke="#4a4a4a" stroke-width="0.9" />
<circle cx="87.21" cy="494.01" r="1.35" fill="#8c8c8c" stroke="#4a4a4a" stroke-width="0.9" />
<circle cx="88.46" cy="494.36" r="1.35" fill="#8c8c8c" stroke="#4a4a4a" stroke-width="0.9" />
<circle cx="89.7" cy="494.76" r="1.35" fill="#8c8c8c" stroke="#4a4a4a" stroke-width="0.9" />
<circle cx="90.9" cy="495.27" r="1.35" fill="#8c8c8c" stroke="#4a4a4a" stroke-width="0.9" />
<circle cx="92.09" cy="495.78" r="1.35" fill="#8c8c8c" stroke="#4a4a4a" stroke-width="0.9" />
<circle cx="93.3" cy="496.24" r="1.35" fill="#8c8c8c" stroke="#4a4a4a" stroke-width="0.9" />
<circle cx="94.57" cy="496.55" r="1.35" fill="#8c8c8c" stroke="#4a4a4a" stroke-width="0.9" />
<circle cx="95.83" cy="496.86" r="1.35" fill="#8c8c8c" stroke="#4a4a4a" stroke-width="0.9" />
<circle cx="96.92" cy="496.32" r="1.35" fill="#8c8c8c" stroke="#4a4a4a" stroke-width="0.9" />
<circle cx="97.96" cy="495.54" r="1.35" fill="#8c8c8c" stroke="#4a4a4a" stroke-width="0.9" />
<circle cx="101.27" cy="489.61" r="1.45" fill="#8c8c8c" stroke="#4a4a4a" stroke-width="0.9" />
<circle cx="103.34" cy="486.52" r="1.45" fill="#8c8c8c" stroke="#4a4a4a" stroke-width="0.9" />
<circle cx="105.41" cy="482.28" r="1.45" fill="#8c8c8c" stroke="#4a4a4a" stroke-width="0.9" />
<circle cx="107.48" cy="476.5" r="1.45" fill="#8c8c8c" stroke="#4a4a4a" stroke-width="0.9" />
<circle cx="111.62" cy="465.7" r="1.45" fill="#8c8c8c" stroke="#4a4a4a" stroke-width="0.9" />
<circle cx="115.24" cy="457.22" r="1.45" fill="#8c8c8c" stroke="#4a4a4a" stroke-width="0.9" />
<circle cx="118.35" cy="444.89" r="1.45" fill="#8c8c8c" stroke="#4a4a4a" stroke-width="0.9" />
<circle cx="120.42" cy="432.55" r="1.45" fill="#8c8c8c" stroke="#4a4a4a" stroke-width="0.9" />
<path d="M97.13,500.4 C97.52,499.94 98.87,498.18 99.72,497.32 C100.57,496.45 101.74,495.2 102.82,494.62 C103.91,494.04 105.72,493.52 106.97,493.46 C108.21,493.4 109.86,493.94 111.1,494.23 C112.35,494.52 114,495.22 115.24,495.39 C116.49,495.56 118.14,495.62 119.38,495.39 C120.63,495.16 122.36,494.48 123.52,493.85 C124.69,493.21 126.37,491.9 127.15,491.15 C127.92,490.4 128,489.99 128.7,488.83 C129.4,487.68 130.72,485.52 131.81,483.44 C132.89,481.36 134.94,476.92 135.94,474.96 C136.95,472.99 137.83,471.78 138.53,470.33 C139.23,468.89 140.06,467 140.6,465.32 C141.15,463.64 141.77,461.23 142.15,459.15 C142.54,457.07 142.88,453.35 143.19,451.44 C143.5,449.53 144.07,448.34 144.22,446.43 C144.38,444.52 144.38,440.98 144.22,438.72 C144.07,436.46 143.58,433.59 143.19,431.4 C142.8,429.2 141.87,425.17 141.64,424.07" fill="none" stroke="#e23a3a" stroke-width="1" stroke-linejoin="round" />
<circle cx="97.13" cy="500.4" r="1.35" fill="#f08080" stroke="#e23a3a" stroke-width="0.9" />
<circle cx="97.97" cy="499.4" r="1.35" fill="#f08080" stroke="#e23a3a" stroke-width="0.9" />
<circle cx="98.8" cy="498.41" r="1.35" fill="#f08080" stroke="#e23a3a" stroke-width="0.9" />
<circle cx="99.64" cy="497.41" r="1.35" fill="#f08080" stroke="#e23a3a" stroke-width="0.9" />
<circle cx="100.61" cy="496.55" r="1.35" fill="#f08080" stroke="#e23a3a" stroke-width="0.9" />
<circle cx="101.59" cy="495.69" r="1.35" fill="#f08080" stroke="#e23a3a" stroke-width="0.9" />
<circle cx="102.57" cy="494.84" r="1.35" fill="#f08080" stroke="#e23a3a" stroke-width="0.9" />
<circle cx="103.75" cy="494.36" r="1.35" fill="#f08080" stroke="#e23a3a" stroke-width="0.9" />
<circle cx="105" cy="494.01" r="1.35" fill="#f08080" stroke="#e23a3a" stroke-width="0.9" />
<circle cx="106.25" cy="493.66" r="1.35" fill="#f08080" stroke="#e23a3a" stroke-width="0.9" />
<circle cx="107.52" cy="493.56" r="1.35" fill="#f08080" stroke="#e23a3a" stroke-width="0.9" />
<circle cx="108.8" cy="493.8" r="1.35" fill="#f08080" stroke="#e23a3a" stroke-width="0.9" />
<circle cx="110.07" cy="494.04" r="1.35" fill="#f08080" stroke="#e23a3a" stroke-width="0.9" />
<circle cx="111.35" cy="494.3" r="1.35" fill="#f08080" stroke="#e23a3a" stroke-width="0.9" />
<circle cx="112.6" cy="494.65" r="1.35" fill="#f08080" stroke="#e23a3a" stroke-width="0.9" />
<circle cx="113.85" cy="495" r="1.35" fill="#f08080" stroke="#e23a3a" stroke-width="0.9" />
<circle cx="115.1" cy="495.35" r="1.35" fill="#f08080" stroke="#e23a3a" stroke-width="0.9" />
<circle cx="116.4" cy="495.39" r="1.35" fill="#f08080" stroke="#e23a3a" stroke-width="0.9" />
<circle cx="117.7" cy="495.39" r="1.35" fill="#f08080" stroke="#e23a3a" stroke-width="0.9" />
<circle cx="119" cy="495.39" r="1.35" fill="#f08080" stroke="#e23a3a" stroke-width="0.9" />
<circle cx="120.24" cy="495.07" r="1.35" fill="#f08080" stroke="#e23a3a" stroke-width="0.9" />
<circle cx="121.46" cy="494.62" r="1.35" fill="#f08080" stroke="#e23a3a" stroke-width="0.9" />
<circle cx="122.68" cy="494.16" r="1.35" fill="#f08080" stroke="#e23a3a" stroke-width="0.9" />
<circle cx="123.84" cy="493.61" r="1.35" fill="#f08080" stroke="#e23a3a" stroke-width="0.9" />
<circle cx="124.88" cy="492.83" r="1.35" fill="#f08080" stroke="#e23a3a" stroke-width="0.9" />
<circle cx="125.93" cy="492.06" r="1.35" fill="#f08080" stroke="#e23a3a" stroke-width="0.9" />
<circle cx="126.97" cy="491.28" r="1.35" fill="#f08080" stroke="#e23a3a" stroke-width="0.9" />
<circle cx="127.75" cy="490.25" r="1.35" fill="#f08080" stroke="#e23a3a" stroke-width="0.9" />
<circle cx="128.47" cy="489.17" r="1.35" fill="#f08080" stroke="#e23a3a" stroke-width="0.9" />
<circle cx="131.81" cy="483.44" r="1.45" fill="#f08080" stroke="#e23a3a" stroke-width="0.9" />
<circle cx="135.94" cy="474.96" r="1.45" fill="#f08080" stroke="#e23a3a" stroke-width="0.9" />
<circle cx="138.53" cy="470.33" r="1.45" fill="#f08080" stroke="#e23a3a" stroke-width="0.9" />
<circle cx="140.6" cy="465.32" r="1.45" fill="#f08080" stroke="#e23a3a" stroke-width="0.9" />
<circle cx="142.15" cy="459.15" r="1.45" fill="#f08080" stroke="#e23a3a" stroke-width="0.9" />
<circle cx="143.19" cy="451.44" r="1.45" fill="#f08080" stroke="#e23a3a" stroke-width="0.9" />
<circle cx="144.22" cy="446.43" r="1.45" fill="#f08080" stroke="#e23a3a" stroke-width="0.9" />
<circle cx="144.22" cy="438.72" r="1.45" fill="#f08080" stroke="#e23a3a" stroke-width="0.9" />
<circle cx="143.19" cy="431.4" r="1.45" fill="#f08080" stroke="#e23a3a" stroke-width="0.9" />
<circle cx="141.64" cy="424.07" r="1.45" fill="#f08080" stroke="#e23a3a" stroke-width="0.9" />
<path d="M96.1,500.4 C96.33,499.82 97.11,497.59 97.65,496.54 C98.19,495.5 99.02,494.33 99.72,493.46 C100.42,492.59 101.38,491.51 102.31,490.76 C103.24,490.01 104.77,489.03 105.93,488.45 C107.09,487.87 108.67,487.25 110.07,486.91 C111.47,486.56 113.69,486.25 115.24,486.14 C116.8,486.02 118.87,486.08 120.42,486.14 C121.97,486.19 124.04,486.35 125.59,486.52 C127.15,486.7 129.22,487 130.77,487.29 C132.32,487.58 134.39,488.16 135.94,488.45 C137.5,488.74 139.57,489.05 141.12,489.22 C142.67,489.39 144.74,489.61 146.29,489.61 C147.85,489.61 149.92,489.45 151.47,489.22 C153.02,488.99 155.09,488.58 156.64,488.06 C158.2,487.54 160.42,486.5 161.82,485.75 C163.22,485 164.8,484.09 165.96,483.05 C167.12,482.01 169.04,479.45 169.58,478.81" fill="none" stroke="#2b72cc" stroke-width="1" stroke-linejoin="round" />
<circle cx="96.1" cy="500.4" r="1.4" fill="#6aa0e4" stroke="#2b72cc" stroke-width="0.9" />
<circle cx="96.84" cy="498.54" r="1.4" fill="#6aa0e4" stroke="#2b72cc" stroke-width="0.9" />
<circle cx="97.59" cy="496.69" r="1.4" fill="#6aa0e4" stroke="#2b72cc" stroke-width="0.9" />
<circle cx="98.68" cy="495.01" r="1.4" fill="#6aa0e4" stroke="#2b72cc" stroke-width="0.9" />
<circle cx="99.81" cy="493.37" r="1.4" fill="#6aa0e4" stroke="#2b72cc" stroke-width="0.9" />
<circle cx="101.19" cy="491.92" r="1.4" fill="#6aa0e4" stroke="#2b72cc" stroke-width="0.9" />
<circle cx="102.64" cy="490.55" r="1.4" fill="#6aa0e4" stroke="#2b72cc" stroke-width="0.9" />
<circle cx="104.32" cy="489.48" r="1.4" fill="#6aa0e4" stroke="#2b72cc" stroke-width="0.9" />
<circle cx="106.02" cy="488.42" r="1.4" fill="#6aa0e4" stroke="#2b72cc" stroke-width="0.9" />
<circle cx="107.89" cy="487.72" r="1.4" fill="#6aa0e4" stroke="#2b72cc" stroke-width="0.9" />
<circle cx="109.77" cy="487.02" r="1.4" fill="#6aa0e4" stroke="#2b72cc" stroke-width="0.9" />
<circle cx="111.73" cy="486.66" r="1.4" fill="#6aa0e4" stroke="#2b72cc" stroke-width="0.9" />
<circle cx="113.71" cy="486.37" r="1.4" fill="#6aa0e4" stroke="#2b72cc" stroke-width="0.9" />
<circle cx="115.69" cy="486.14" r="1.4" fill="#6aa0e4" stroke="#2b72cc" stroke-width="0.9" />
<circle cx="117.69" cy="486.14" r="1.4" fill="#6aa0e4" stroke="#2b72cc" stroke-width="0.9" />
<circle cx="119.69" cy="486.14" r="1.4" fill="#6aa0e4" stroke="#2b72cc" stroke-width="0.9" />
<circle cx="121.68" cy="486.23" r="1.4" fill="#6aa0e4" stroke="#2b72cc" stroke-width="0.9" />
<circle cx="123.68" cy="486.38" r="1.4" fill="#6aa0e4" stroke="#2b72cc" stroke-width="0.9" />
<circle cx="125.67" cy="486.53" r="1.4" fill="#6aa0e4" stroke="#2b72cc" stroke-width="0.9" />
<circle cx="127.65" cy="486.83" r="1.4" fill="#6aa0e4" stroke="#2b72cc" stroke-width="0.9" />
<circle cx="129.63" cy="487.12" r="1.4" fill="#6aa0e4" stroke="#2b72cc" stroke-width="0.9" />
<circle cx="131.6" cy="487.48" r="1.4" fill="#6aa0e4" stroke="#2b72cc" stroke-width="0.9" />
<circle cx="133.55" cy="487.91" r="1.4" fill="#6aa0e4" stroke="#2b72cc" stroke-width="0.9" />
<circle cx="135.5" cy="488.35" r="1.4" fill="#6aa0e4" stroke="#2b72cc" stroke-width="0.9" />
<circle cx="137.47" cy="488.68" r="1.4" fill="#6aa0e4" stroke="#2b72cc" stroke-width="0.9" />
<circle cx="139.45" cy="488.97" r="1.4" fill="#6aa0e4" stroke="#2b72cc" stroke-width="0.9" />
<circle cx="141.43" cy="489.24" r="1.4" fill="#6aa0e4" stroke="#2b72cc" stroke-width="0.9" />
<circle cx="143.43" cy="489.39" r="1.4" fill="#6aa0e4" stroke="#2b72cc" stroke-width="0.9" />
<circle cx="145.42" cy="489.54" r="1.4" fill="#6aa0e4" stroke="#2b72cc" stroke-width="0.9" />
<circle cx="147.41" cy="489.52" r="1.4" fill="#6aa0e4" stroke="#2b72cc" stroke-width="0.9" />
<circle cx="149.41" cy="489.37" r="1.4" fill="#6aa0e4" stroke="#2b72cc" stroke-width="0.9" />
<circle cx="151.4" cy="489.23" r="1.4" fill="#6aa0e4" stroke="#2b72cc" stroke-width="0.9" />
<circle cx="153.36" cy="488.8" r="1.4" fill="#6aa0e4" stroke="#2b72cc" stroke-width="0.9" />
<circle cx="155.31" cy="488.36" r="1.4" fill="#6aa0e4" stroke="#2b72cc" stroke-width="0.9" />
<circle cx="157.22" cy="487.81" r="1.4" fill="#6aa0e4" stroke="#2b72cc" stroke-width="0.9" />
<circle cx="159.05" cy="486.99" r="1.4" fill="#6aa0e4" stroke="#2b72cc" stroke-width="0.9" />
<circle cx="160.87" cy="486.17" r="1.4" fill="#6aa0e4" stroke="#2b72cc" stroke-width="0.9" />
<circle cx="162.63" cy="485.23" r="1.4" fill="#6aa0e4" stroke="#2b72cc" stroke-width="0.9" />
<circle cx="164.3" cy="484.13" r="1.4" fill="#6aa0e4" stroke="#2b72cc" stroke-width="0.9" />
<circle cx="165.97" cy="483.04" r="1.4" fill="#6aa0e4" stroke="#2b72cc" stroke-width="0.9" />
<circle cx="167.27" cy="481.52" r="1.4" fill="#6aa0e4" stroke="#2b72cc" stroke-width="0.9" />
<circle cx="168.57" cy="480" r="1.4" fill="#6aa0e4" stroke="#2b72cc" stroke-width="0.9" />
</g>
<rect x="66" y="422.5" width="102.8" height="77.9" fill="none" stroke="#2b2b2b" stroke-width="1.3" />
<line x1="66" y1="500.4" x2="68" y2="500.4" stroke="#2b2b2b" stroke-width="0.9" />
<line x1="66" y1="484.98" x2="68" y2="484.98" stroke="#2b2b2b" stroke-width="0.9" />
<line x1="66" y1="469.56" x2="68" y2="469.56" stroke="#2b2b2b" stroke-width="0.9" />
<line x1="66" y1="454.14" x2="68" y2="454.14" stroke="#2b2b2b" stroke-width="0.9" />
<line x1="66" y1="438.72" x2="68" y2="438.72" stroke="#2b2b2b" stroke-width="0.9" />
<line x1="66" y1="492.69" x2="67.2" y2="492.69" stroke="#2b2b2b" stroke-width="0.9" />
<line x1="66" y1="477.27" x2="67.2" y2="477.27" stroke="#2b2b2b" stroke-width="0.9" />
<line x1="66" y1="461.85" x2="67.2" y2="461.85" stroke="#2b2b2b" stroke-width="0.9" />
<line x1="66" y1="446.43" x2="67.2" y2="446.43" stroke="#2b2b2b" stroke-width="0.9" />
<line x1="66" y1="431.01" x2="67.2" y2="431.01" stroke="#2b2b2b" stroke-width="0.9" />
<line x1="66.6" y1="500.4" x2="66.6" y2="498.4" stroke="#2b2b2b" stroke-width="0.9" />
<line x1="87.3" y1="500.4" x2="87.3" y2="498.4" stroke="#2b2b2b" stroke-width="0.9" />
<line x1="108" y1="500.4" x2="108" y2="498.4" stroke="#2b2b2b" stroke-width="0.9" />
<line x1="128.7" y1="500.4" x2="128.7" y2="498.4" stroke="#2b2b2b" stroke-width="0.9" />
<line x1="149.4" y1="500.4" x2="149.4" y2="498.4" stroke="#2b2b2b" stroke-width="0.9" />
<line x1="76.95" y1="500.4" x2="76.95" y2="499.2" stroke="#2b2b2b" stroke-width="0.9" />
<line x1="97.65" y1="500.4" x2="97.65" y2="499.2" stroke="#2b2b2b" stroke-width="0.9" />
<line x1="118.35" y1="500.4" x2="118.35" y2="499.2" stroke="#2b2b2b" stroke-width="0.9" />
<line x1="139.05" y1="500.4" x2="139.05" y2="499.2" stroke="#2b2b2b" stroke-width="0.9" />
<line x1="159.75" y1="500.4" x2="159.75" y2="499.2" stroke="#2b2b2b" stroke-width="0.9" />
<text x="63.9" y="502.3" font-size="8.3" text-anchor="end" font-family='"Liberation Serif", serif' fill="#1a1a1a"  stroke="#1a1a1a" stroke-width="0.12">0.0</text>
<text x="63.9" y="486.88" font-size="8.3" text-anchor="end" font-family='"Liberation Serif", serif' fill="#1a1a1a"  stroke="#1a1a1a" stroke-width="0.12">0.2</text>
<text x="63.9" y="471.46" font-size="8.3" text-anchor="end" font-family='"Liberation Serif", serif' fill="#1a1a1a"  stroke="#1a1a1a" stroke-width="0.12">0.4</text>
<text x="63.9" y="456.04" font-size="8.3" text-anchor="end" font-family='"Liberation Serif", serif' fill="#1a1a1a"  stroke="#1a1a1a" stroke-width="0.12">0.6</text>
<text x="63.9" y="440.62" font-size="8.3" text-anchor="end" font-family='"Liberation Serif", serif' fill="#1a1a1a"  stroke="#1a1a1a" stroke-width="0.12">0.8</text>
<text x="66.6" y="509.8" font-size="8.3" text-anchor="middle" font-family='"Liberation Serif", serif' fill="#1a1a1a"  stroke="#1a1a1a" stroke-width="0.12">0.4</text>
<text x="87.3" y="509.8" font-size="8.3" text-anchor="middle" font-family='"Liberation Serif", serif' fill="#1a1a1a"  stroke="#1a1a1a" stroke-width="0.12">0.6</text>
<text x="108" y="509.8" font-size="8.3" text-anchor="middle" font-family='"Liberation Serif", serif' fill="#1a1a1a"  stroke="#1a1a1a" stroke-width="0.12">0.8</text>
<text x="128.7" y="509.8" font-size="8.3" text-anchor="middle" font-family='"Liberation Serif", serif' fill="#1a1a1a"  stroke="#1a1a1a" stroke-width="0.12">1.0</text>
<text x="149.4" y="509.8" font-size="8.3" text-anchor="middle" font-family='"Liberation Serif", serif' fill="#1a1a1a"  stroke="#1a1a1a" stroke-width="0.12">1.2</text>
<line x1="74" y1="453.4" x2="83.2" y2="453.4" stroke="#4a4a4a" stroke-width="1.1" />
<circle cx="78.3" cy="453.4" r="1.4" fill="#8c8c8c" stroke="#4a4a4a" stroke-width="0.9" />
<text x="84" y="455" font-size="4.4" text-anchor="start" font-family='"Liberation Sans", sans-serif' fill="#444"  textLength="15" lengthAdjust="spacingAndGlyphs">Mi-CPC</text>
<line x1="74" y1="458.6" x2="83.2" y2="458.6" stroke="#e23a3a" stroke-width="1.1" />
<circle cx="78.3" cy="458.6" r="1.4" fill="#f08080" stroke="#e23a3a" stroke-width="0.9" />
<text x="84" y="460.2" font-size="4.4" text-anchor="start" font-family='"Liberation Sans", sans-serif' fill="#444"  textLength="12.5" lengthAdjust="spacingAndGlyphs">h-CPC</text>
<line x1="74" y1="463.8" x2="83.2" y2="463.8" stroke="#2b72cc" stroke-width="1.1" />
<circle cx="78.3" cy="463.8" r="1.4" fill="#6aa0e4" stroke="#2b72cc" stroke-width="0.9" />
<text x="84" y="465.4" font-size="4.4" text-anchor="start" font-family='"Liberation Sans", sans-serif' fill="#444"  textLength="15" lengthAdjust="spacingAndGlyphs">Me-CPC</text>
<path d="M225.8,440.5 L300,440.4 L380,439.8 L458.4,438.6 L458.4,434.4 L380,435.2 L300,435.9 L225.8,436.0 Z" fill="#f05a5a"/>
<path d="M225.8,436.2 L300,436.2 L380,435.4 L458.4,435.0 L458.4,431.4 L380,431.5 L300,431.2 L225.8,431.0 Z" fill="#46a4e4"/>
<line x1="205" y1="423.6" x2="479.5" y2="423.6" stroke="#46a4e4" stroke-width="1.3" />
<line x1="205" y1="526.4" x2="479.5" y2="526.4" stroke="#2b2b2b" stroke-width="1.3" />
<line x1="205" y1="423" x2="205" y2="526.4" stroke="#f05a5a" stroke-width="1.4" />
<line x1="479.5" y1="423" x2="479.5" y2="527" stroke="#46a4e4" stroke-width="1.4" />
<line x1="205" y1="526.4" x2="207" y2="526.4" stroke="#f05a5a" stroke-width="0.9" />
<line x1="205" y1="509.26" x2="207" y2="509.26" stroke="#f05a5a" stroke-width="0.9" />
<line x1="205" y1="492.13" x2="207" y2="492.13" stroke="#f05a5a" stroke-width="0.9" />
<line x1="205" y1="475" x2="207" y2="475" stroke="#f05a5a" stroke-width="0.9" />
<line x1="205" y1="457.86" x2="207" y2="457.86" stroke="#f05a5a" stroke-width="0.9" />
<line x1="205" y1="440.72" x2="207" y2="440.72" stroke="#f05a5a" stroke-width="0.9" />
<line x1="205" y1="423.59" x2="207" y2="423.59" stroke="#f05a5a" stroke-width="0.9" />
<line x1="205" y1="517.83" x2="206.2" y2="517.83" stroke="#f05a5a" stroke-width="0.9" />
<line x1="205" y1="500.7" x2="206.2" y2="500.7" stroke="#f05a5a" stroke-width="0.9" />
<line x1="205" y1="483.56" x2="206.2" y2="483.56" stroke="#f05a5a" stroke-width="0.9" />
<line x1="205" y1="466.43" x2="206.2" y2="466.43" stroke="#f05a5a" stroke-width="0.9" />
<line x1="205" y1="449.29" x2="206.2" y2="449.29" stroke="#f05a5a" stroke-width="0.9" />
<line x1="205" y1="432.16" x2="206.2" y2="432.16" stroke="#f05a5a" stroke-width="0.9" />
<line x1="479.5" y1="526.4" x2="477.5" y2="526.4" stroke="#46a4e4" stroke-width="0.9" />
<line x1="479.5" y1="507.71" x2="477.5" y2="507.71" stroke="#46a4e4" stroke-width="0.9" />
<line x1="479.5" y1="489.02" x2="477.5" y2="489.02" stroke="#46a4e4" stroke-width="0.9" />
<line x1="479.5" y1="470.33" x2="477.5" y2="470.33" stroke="#46a4e4" stroke-width="0.9" />
<line x1="479.5" y1="451.64" x2="477.5" y2="451.64" stroke="#46a4e4" stroke-width="0.9" />
<line x1="479.5" y1="432.95" x2="477.5" y2="432.95" stroke="#46a4e4" stroke-width="0.9" />
<line x1="479.5" y1="517.05" x2="478.3" y2="517.05" stroke="#46a4e4" stroke-width="0.9" />
<line x1="479.5" y1="498.36" x2="478.3" y2="498.36" stroke="#46a4e4" stroke-width="0.9" />
<line x1="479.5" y1="479.67" x2="478.3" y2="479.67" stroke="#46a4e4" stroke-width="0.9" />
<line x1="479.5" y1="460.98" x2="478.3" y2="460.98" stroke="#46a4e4" stroke-width="0.9" />
<line x1="479.5" y1="442.29" x2="478.3" y2="442.29" stroke="#46a4e4" stroke-width="0.9" />
<line x1="479.5" y1="423.6" x2="478.3" y2="423.6" stroke="#46a4e4" stroke-width="0.9" />
<line x1="227.6" y1="526.4" x2="227.6" y2="524.4" stroke="#2b2b2b" stroke-width="0.9" />
<line x1="284.82" y1="526.4" x2="284.82" y2="524.4" stroke="#2b2b2b" stroke-width="0.9" />
<line x1="342.05" y1="526.4" x2="342.05" y2="524.4" stroke="#2b2b2b" stroke-width="0.9" />
<line x1="399.27" y1="526.4" x2="399.27" y2="524.4" stroke="#2b2b2b" stroke-width="0.9" />
<line x1="456.5" y1="526.4" x2="456.5" y2="524.4" stroke="#2b2b2b" stroke-width="0.9" />
<line x1="256.21" y1="526.4" x2="256.21" y2="525.2" stroke="#2b2b2b" stroke-width="0.9" />
<line x1="313.44" y1="526.4" x2="313.44" y2="525.2" stroke="#2b2b2b" stroke-width="0.9" />
<line x1="370.66" y1="526.4" x2="370.66" y2="525.2" stroke="#2b2b2b" stroke-width="0.9" />
<line x1="427.89" y1="526.4" x2="427.89" y2="525.2" stroke="#2b2b2b" stroke-width="0.9" />
<text x="203" y="529.7" font-size="8.3" text-anchor="end" font-family='"Liberation Serif", serif' fill="#f27070"  stroke="#f27070" stroke-width="0.12">0</text>
<text x="203" y="512.57" font-size="8.3" text-anchor="end" font-family='"Liberation Serif", serif' fill="#f27070"  stroke="#f27070" stroke-width="0.12">50</text>
<text x="203" y="495.43" font-size="8.3" text-anchor="end" font-family='"Liberation Serif", serif' fill="#f27070"  stroke="#f27070" stroke-width="0.12">100</text>
<text x="203" y="478.3" font-size="8.3" text-anchor="end" font-family='"Liberation Serif", serif' fill="#f27070"  stroke="#f27070" stroke-width="0.12">150</text>
<text x="203" y="461.16" font-size="8.3" text-anchor="end" font-family='"Liberation Serif", serif' fill="#f27070"  stroke="#f27070" stroke-width="0.12">200</text>
<text x="203" y="444.03" font-size="8.3" text-anchor="end" font-family='"Liberation Serif", serif' fill="#f27070"  stroke="#f27070" stroke-width="0.12">250</text>
<text x="203" y="426.89" font-size="8.3" text-anchor="end" font-family='"Liberation Serif", serif' fill="#f27070"  stroke="#f27070" stroke-width="0.12">300</text>
<text x="481.4" y="530.2" font-size="8.3" text-anchor="start" font-family='"Liberation Serif", serif' fill="#5ab0ea"  stroke="#5ab0ea" stroke-width="0.12">0</text>
<text x="481.4" y="511.51" font-size="8.3" text-anchor="start" font-family='"Liberation Serif", serif' fill="#5ab0ea"  stroke="#5ab0ea" stroke-width="0.12">20</text>
<text x="481.4" y="492.82" font-size="8.3" text-anchor="start" font-family='"Liberation Serif", serif' fill="#5ab0ea"  stroke="#5ab0ea" stroke-width="0.12">40</text>
<text x="481.4" y="474.13" font-size="8.3" text-anchor="start" font-family='"Liberation Serif", serif' fill="#5ab0ea"  stroke="#5ab0ea" stroke-width="0.12">60</text>
<text x="481.4" y="455.44" font-size="8.3" text-anchor="start" font-family='"Liberation Serif", serif' fill="#5ab0ea"  stroke="#5ab0ea" stroke-width="0.12">80</text>
<text x="481.4" y="436.75" font-size="8.3" text-anchor="start" font-family='"Liberation Serif", serif' fill="#5ab0ea"  stroke="#5ab0ea" stroke-width="0.12">100</text>
<text x="227.6" y="534.6" font-size="8.3" text-anchor="middle" font-family='"Liberation Serif", serif' fill="#1a1a1a"  stroke="#1a1a1a" stroke-width="0.12">0</text>
<text x="284.82" y="534.6" font-size="8.3" text-anchor="middle" font-family='"Liberation Serif", serif' fill="#1a1a1a"  stroke="#1a1a1a" stroke-width="0.12">2500</text>
<text x="342.05" y="534.6" font-size="8.3" text-anchor="middle" font-family='"Liberation Serif", serif' fill="#1a1a1a"  stroke="#1a1a1a" stroke-width="0.12">5000</text>
<text x="399.27" y="534.6" font-size="8.3" text-anchor="middle" font-family='"Liberation Serif", serif' fill="#1a1a1a"  stroke="#1a1a1a" stroke-width="0.12">7500</text>
<text x="458.2" y="534.6" font-size="8.3" text-anchor="middle" font-family='"Liberation Serif", serif' fill="#1a1a1a"  stroke="#1a1a1a" stroke-width="0.12">10,000</text>
<text x="361.1" y="543.7" font-size="8.4" text-anchor="middle" font-family='"Liberation Serif", serif' fill="#1a1a1a"  textLength="51.4" lengthAdjust="spacingAndGlyphs" stroke="#1a1a1a" stroke-width="0.12">Cycle numbers</text>
<text x="184.5" y="480" font-size="8.4" text-anchor="middle" font-family='"Liberation Serif", serif' fill="#1a1a1a" transform="rotate(-90 184.5 480)"  textLength="91" lengthAdjust="spacingAndGlyphs" stroke="#1a1a1a" stroke-width="0.12">Specific capacitance (F g<tspan font-size="5.2" dy="-3.3">−1</tspan><tspan dy="3.3">)</tspan></text>
<text x="497.7" y="479" font-size="8.4" text-anchor="middle" font-family='"Liberation Serif", serif' fill="#1a1a1a" transform="rotate(-90 497.7 479)"  textLength="87" lengthAdjust="spacingAndGlyphs" stroke="#1a1a1a" stroke-width="0.12">Coulombic efficiency (%)</text>
<text x="179" y="430.4" font-size="14" text-anchor="start" font-family='"Liberation Serif", serif' fill="#111"  stroke="#111" stroke-width="0.12">k</text>
<polyline points="282.3,496.8 287.3,453.3 292.2,496.8 296.9,453.3 301.8,496.8 306.6,453.3 311.8,496.8 316.6,453.3 321.8,496.8 326.8,453.3 332,496.8" fill="none" stroke="#4ac4cc" stroke-width="1" stroke-linejoin="round" />
<polyline points="350.9,496.8 355.7,453.3 360.7,496.8 365.5,453.3 370.7,496.8 375.5,453.3 380.7,496.8 385.5,453.3 390.5,496.8 395.7,453.3 400.8,496.8" fill="none" stroke="#4cba7c" stroke-width="1" stroke-linejoin="round" />
<rect x="273.6" y="449.4" width="137.8" height="51.8" fill="none" stroke="#333" stroke-width="0.9" />
<line x1="342.5" y1="449.4" x2="342.5" y2="501.2" stroke="#333" stroke-width="0.9" />
<line x1="273.6" y1="496.8" x2="274.8" y2="496.8" stroke="#333" stroke-width="0.6" />
<line x1="342.5" y1="496.8" x2="343.7" y2="496.8" stroke="#333" stroke-width="0.6" />
<line x1="273.6" y1="488.1" x2="274.8" y2="488.1" stroke="#333" stroke-width="0.6" />
<line x1="342.5" y1="488.1" x2="343.7" y2="488.1" stroke="#333" stroke-width="0.6" />
<line x1="273.6" y1="479.4" x2="274.8" y2="479.4" stroke="#333" stroke-width="0.6" />
<line x1="342.5" y1="479.4" x2="343.7" y2="479.4" stroke="#333" stroke-width="0.6" />
<line x1="273.6" y1="470.7" x2="274.8" y2="470.7" stroke="#333" stroke-width="0.6" />
<line x1="342.5" y1="470.7" x2="343.7" y2="470.7" stroke="#333" stroke-width="0.6" />
<line x1="273.6" y1="462" x2="274.8" y2="462" stroke="#333" stroke-width="0.6" />
<line x1="342.5" y1="462" x2="343.7" y2="462" stroke="#333" stroke-width="0.6" />
<line x1="273.6" y1="453.3" x2="274.8" y2="453.3" stroke="#333" stroke-width="0.6" />
<line x1="342.5" y1="453.3" x2="343.7" y2="453.3" stroke="#333" stroke-width="0.6" />
<line x1="282.3" y1="501.2" x2="282.3" y2="500" stroke="#333" stroke-width="0.6" />
<line x1="350.9" y1="501.2" x2="350.9" y2="500" stroke="#333" stroke-width="0.6" />
<text x="282.3" y="505.3" font-size="4.2" text-anchor="middle" font-family='"Liberation Serif", serif' fill="#333" >0</text>
<text x="350.9" y="505.3" font-size="4.2" text-anchor="middle" font-family='"Liberation Serif", serif' fill="#333" >0</text>
<line x1="299.06" y1="501.2" x2="299.06" y2="500" stroke="#333" stroke-width="0.6" />
<line x1="367.74" y1="501.2" x2="367.74" y2="500" stroke="#333" stroke-width="0.6" />
<text x="299.06" y="505.3" font-size="4.2" text-anchor="middle" font-family='"Liberation Serif", serif' fill="#333" >200</text>
<text x="367.74" y="505.3" font-size="4.2" text-anchor="middle" font-family='"Liberation Serif", serif' fill="#333" >200</text>
<line x1="315.82" y1="501.2" x2="315.82" y2="500" stroke="#333" stroke-width="0.6" />
<line x1="384.58" y1="501.2" x2="384.58" y2="500" stroke="#333" stroke-width="0.6" />
<text x="315.82" y="505.3" font-size="4.2" text-anchor="middle" font-family='"Liberation Serif", serif' fill="#333" >400</text>
<text x="384.58" y="505.3" font-size="4.2" text-anchor="middle" font-family='"Liberation Serif", serif' fill="#333" >400</text>
<line x1="332.58" y1="501.2" x2="332.58" y2="500" stroke="#333" stroke-width="0.6" />
<line x1="401.42" y1="501.2" x2="401.42" y2="500" stroke="#333" stroke-width="0.6" />
<text x="332.58" y="505.3" font-size="4.2" text-anchor="middle" font-family='"Liberation Serif", serif' fill="#333" >600</text>
<text x="401.42" y="505.3" font-size="4.2" text-anchor="middle" font-family='"Liberation Serif", serif' fill="#333" >600</text>
<text x="272.6" y="498.2" font-size="4.2" text-anchor="end" font-family='"Liberation Serif", serif' fill="#333" >0.0</text>
<text x="272.6" y="489.5" font-size="4.2" text-anchor="end" font-family='"Liberation Serif", serif' fill="#333" >−0.2</text>
<text x="272.6" y="480.8" font-size="4.2" text-anchor="end" font-family='"Liberation Serif", serif' fill="#333" >−0.4</text>
<text x="272.6" y="472.1" font-size="4.2" text-anchor="end" font-family='"Liberation Serif", serif' fill="#333" >−0.6</text>
<text x="272.6" y="463.4" font-size="4.2" text-anchor="end" font-family='"Liberation Serif", serif' fill="#333" >−0.8</text>
<text x="272.6" y="454.7" font-size="4.2" text-anchor="end" font-family='"Liberation Serif", serif' fill="#333" >−1.0</text>
<text x="308" y="499.3" font-size="4.6" text-anchor="middle" font-family='"Liberation Serif", serif' fill="#333"  textLength="27" lengthAdjust="spacingAndGlyphs">Initial 5 cycles</text>
<text x="380.3" y="499.3" font-size="4.6" text-anchor="middle" font-family='"Liberation Serif", serif' fill="#333"  textLength="23" lengthAdjust="spacingAndGlyphs">Last 5 cycles</text>
<text x="338.3" y="510.3" font-size="4.6" text-anchor="middle" font-family='"Liberation Serif", serif' fill="#333"  textLength="14" lengthAdjust="spacingAndGlyphs">Time (s)</text>
<text x="262.2" y="474.2" font-size="4.6" text-anchor="middle" font-family='"Liberation Serif", serif' fill="#333" transform="rotate(-90 262.2 474.2)"  textLength="49.3" lengthAdjust="spacingAndGlyphs">Potential (V vs. Hg/HgO)</text>
</svg></body></html>
